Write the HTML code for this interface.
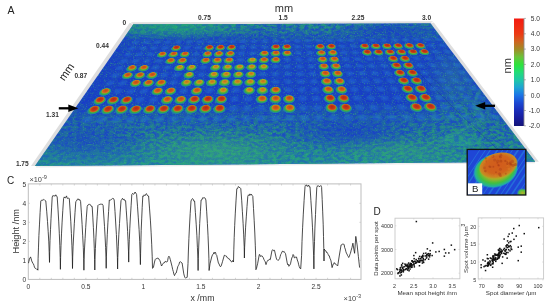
<!DOCTYPE html><html><head><meta charset="utf-8"><style>html,body{margin:0;padding:0;background:#fff;overflow:hidden;width:550px;height:308px;}svg{display:block}</style></head><body>
<svg width="550" height="308" viewBox="0 0 550 308">
<rect width="550" height="308" fill="#fff"/>
<defs>
<linearGradient id="cb" x1="0" y1="0" x2="0" y2="1">
<stop offset="0" stop-color="#f41a10"/>
<stop offset="0.143" stop-color="#ec3a14"/>
<stop offset="0.214" stop-color="#cf6420"/>
<stop offset="0.286" stop-color="#a08c26"/>
<stop offset="0.357" stop-color="#6cc23a"/>
<stop offset="0.429" stop-color="#2ee33c"/>
<stop offset="0.5" stop-color="#22dc78"/>
<stop offset="0.571" stop-color="#1fc8a8"/>
<stop offset="0.643" stop-color="#1ea4d4"/>
<stop offset="0.714" stop-color="#1c74e6"/>
<stop offset="0.786" stop-color="#1c48d2"/>
<stop offset="0.857" stop-color="#1a2cb8"/>
<stop offset="0.929" stop-color="#181c9c"/>
<stop offset="1" stop-color="#141478"/>
</linearGradient>
<radialGradient id="dtR" cx="0.5" cy="0.5" r="0.5" fx="0.5" fy="0.4">
<stop offset="0" stop-color="#b82814"/><stop offset="0.5" stop-color="#c23616"/><stop offset="0.8" stop-color="#cc5a1c"/><stop offset="1" stop-color="#c88a24" stop-opacity="0.3"/>
</radialGradient>
<radialGradient id="dtO" cx="0.5" cy="0.5" r="0.5" fx="0.5" fy="0.4">
<stop offset="0" stop-color="#c84818"/><stop offset="0.5" stop-color="#cc5a1a"/><stop offset="0.8" stop-color="#d07a1e"/><stop offset="1" stop-color="#c09a24" stop-opacity="0.3"/>
</radialGradient>
<radialGradient id="dtY" cx="0.5" cy="0.5" r="0.5" fx="0.5" fy="0.4">
<stop offset="0" stop-color="#c8701c"/><stop offset="0.5" stop-color="#c88620"/><stop offset="0.8" stop-color="#b8a026"/><stop offset="1" stop-color="#a0b02a" stop-opacity="0.3"/>
</radialGradient>
<radialGradient id="skirt0" cx="0.5" cy="0.5" r="0.5" fx="0.56" fy="0.3">
<stop offset="0" stop-color="#98a82c"/><stop offset="0.5" stop-color="#6aae34"/><stop offset="0.72" stop-color="#34a848"/><stop offset="0.88" stop-color="#1f9a9a" stop-opacity="0.7"/><stop offset="1" stop-color="#2a8ab0" stop-opacity="0"/>
</radialGradient>
<radialGradient id="ghost" cx="0.5" cy="0.5" r="0.5">
<stop offset="0" stop-color="#2a88dc" stop-opacity="0.75"/><stop offset="0.6" stop-color="#2a84d8" stop-opacity="0.45"/><stop offset="1" stop-color="#2a84d8" stop-opacity="0"/>
</radialGradient>
<linearGradient id="surfv" x1="0" y1="0" x2="0" y2="1">
<stop offset="0" stop-color="#1f7cc0"/>
<stop offset="0.15" stop-color="#1e66cc"/>
<stop offset="0.3" stop-color="#1d58d0"/>
<stop offset="0.62" stop-color="#1d5cd0"/>
<stop offset="0.8" stop-color="#2176c4"/>
<stop offset="1" stop-color="#2488b4"/>
</linearGradient>
<linearGradient id="botband" gradientUnits="userSpaceOnUse" x1="0" y1="135" x2="0" y2="166">
<stop offset="0" stop-color="#28a890" stop-opacity="0"/><stop offset="1" stop-color="#28a890" stop-opacity="0.4"/>
</linearGradient>
<radialGradient id="gglow" cx="0.5" cy="0.5" r="0.5">
<stop offset="0" stop-color="#3cb070" stop-opacity="0.55"/><stop offset="1" stop-color="#3cb070" stop-opacity="0"/>
</radialGradient>
<radialGradient id="botglow" cx="0.5" cy="1" r="0.5">
<stop offset="0" stop-color="#28b08c" stop-opacity="0.55"/><stop offset="1" stop-color="#28b08c" stop-opacity="0"/>
</radialGradient>
<radialGradient id="tlglow" cx="0.5" cy="0.5" r="0.5">
<stop offset="0" stop-color="#22b46c" stop-opacity="0.6"/><stop offset="1" stop-color="#22b46c" stop-opacity="0"/>
</radialGradient>
<filter id="tex" x="0" y="0" width="1" height="1">
<feTurbulence type="fractalNoise" baseFrequency="0.3 0.45" numOctaves="3" seed="7"/>
<feColorMatrix type="matrix" values="0 0 0 0 0.16  0 0 0 0 0.72  0 0 0 0 0.66  2.6 0 0 0 -1.15"/>
</filter>
<filter id="tex2" x="0" y="0" width="1" height="1">
<feTurbulence type="fractalNoise" baseFrequency="0.5 0.7" numOctaves="2" seed="21"/>
<feColorMatrix type="matrix" values="0 0 0 0 0.08  0 0 0 0 0.2  0 0 0 0 0.65  0 2.4 0 0 -1.1"/>
</filter>
<filter id="soft" x="-0.2" y="-0.2" width="1.4" height="1.4"><feGaussianBlur stdDeviation="0.35"/></filter>
<filter id="soft2" x="-0.2" y="-0.2" width="1.4" height="1.4"><feGaussianBlur stdDeviation="0.8"/></filter>
<clipPath id="surfclip"><polygon points="133.4,24.3 430.5,23.3 535.2,161.8 35,166"/></clipPath>
</defs>
<polygon points="129.8,22.8 133.4,24.3 35,166 31,166" fill="#dedede"/>
<polygon points="430.5,23.3 433.8,22.5 538.8,161.8 535.2,161.8" fill="#dedede"/>
<polygon points="131,22.2 433,21.3 430.5,23.3 133.4,24.3" fill="#dedede"/>
<line x1="36" y1="166.9" x2="535" y2="162.7" stroke="#e2e2e2" stroke-width="0.9"/>
<defs>
<filter id="texA" x="0" y="0" width="1" height="1" color-interpolation-filters="sRGB">
<feTurbulence type="fractalNoise" baseFrequency="0.22 0.38" numOctaves="3" seed="5"/>
<feColorMatrix type="matrix" values="0 0 0 0 0.16  0 0 0 0 0.68  0 0 0 0 0.4  3.0 0 0 0 -1.0"/>
<feGaussianBlur stdDeviation="0.45"/>
</filter>
<filter id="texB" x="0" y="0" width="1" height="1" color-interpolation-filters="sRGB">
<feTurbulence type="fractalNoise" baseFrequency="0.6 0.8" numOctaves="2" seed="12"/>
<feColorMatrix type="matrix" values="0 0 0 0 0.22  0 0 0 0 0.66  0 0 0 0 0.6  0 3.0 0 0 -1.5"/>
</filter>
<filter id="texC" x="0" y="0" width="1" height="1" color-interpolation-filters="sRGB">
<feTurbulence type="fractalNoise" baseFrequency="0.45 0.7" numOctaves="2" seed="31"/>
<feColorMatrix type="matrix" values="0 0 0 0 0.09  0 0 0 0 0.22  0 0 0 0 0.72  0 0 3.0 0 -1.45"/>
</filter>
<filter id="texD" x="0" y="0" width="1" height="1" color-interpolation-filters="sRGB">
<feTurbulence type="fractalNoise" baseFrequency="0.9" numOctaves="1" seed="44"/>
<feColorMatrix type="matrix" values="0 0 0 0 0.25  0 0 0 0 0.72  0 0 0 0 0.45  6 0 0 0 -3.6"/>
</filter>
<linearGradient id="mk" gradientUnits="userSpaceOnUse" x1="0" y1="22" x2="0" y2="166">
<stop offset="0" stop-color="#fff" stop-opacity="1"/>
<stop offset="0.07" stop-color="#fff" stop-opacity="0.75"/>
<stop offset="0.14" stop-color="#fff" stop-opacity="0.22"/>
<stop offset="0.55" stop-color="#fff" stop-opacity="0.12"/>
<stop offset="0.65" stop-color="#fff" stop-opacity="0.45"/>
<stop offset="0.76" stop-color="#fff" stop-opacity="0.85"/>
<stop offset="1" stop-color="#fff" stop-opacity="1"/>
</linearGradient>
<radialGradient id="mkr" cx="0.5" cy="0.5" r="0.5"><stop offset="0" stop-color="#fff" stop-opacity="0.7"/><stop offset="1" stop-color="#fff" stop-opacity="0"/></radialGradient>
<radialGradient id="mkd" cx="0.5" cy="0.5" r="0.5"><stop offset="0" stop-color="#000" stop-opacity="0.7"/><stop offset="1" stop-color="#000" stop-opacity="0"/></radialGradient>
<mask id="mask1" maskUnits="userSpaceOnUse" x="30" y="20" width="510" height="150">
<rect x="30" y="20" width="510" height="150" fill="url(#mk)"/>
<ellipse cx="465" cy="110" rx="45" ry="40" fill="url(#mkr)"/>
<ellipse cx="85" cy="145" rx="75" ry="28" fill="url(#mkd)"/>
<ellipse cx="390" cy="30" rx="60" ry="12" fill="url(#mkd)"/>
<ellipse cx="350" cy="133" rx="75" ry="20" fill="url(#mkd)"/>
</mask>
</defs>
<g clip-path="url(#surfclip)">
<rect x="30" y="20" width="510" height="150" fill="#1838cc"/>
<rect x="30" y="20" width="510" height="150" filter="url(#texC)" opacity="0.35"/>
<g mask="url(#mask1)"><rect x="30" y="20" width="510" height="150" fill="#2a9a9a" opacity="0.3"/><rect x="30" y="20" width="510" height="150" filter="url(#texA)" opacity="0.8"/></g>
<ellipse cx="175" cy="27" rx="80" ry="13" fill="url(#tlglow)" opacity="1"/>
<rect x="30" y="20" width="510" height="150" filter="url(#texD)" opacity="0.45"/>
<rect x="30" y="20" width="510" height="150" filter="url(#texB)" opacity="0.22"/>
<ellipse cx="462" cy="130" rx="32" ry="16" fill="url(#botglow)" opacity="0.9"/>
<rect x="30" y="130" width="510" height="40" fill="url(#botband)"/>
<ellipse cx="215" cy="150" rx="85" ry="22" fill="url(#gglow)" opacity="0.9"/>
<ellipse cx="400" cy="150" rx="70" ry="15" fill="url(#gglow)" opacity="0.6"/>
<ellipse cx="452" cy="75" rx="28" ry="32" fill="url(#gglow)" opacity="0.45"/>
<g fill="none" stroke-linecap="round">
<path d="M418.8 72.9 L459.7 113.9 L506.5 157.7" stroke="#142a80" stroke-width="0.6" opacity="0.55"/>
<path d="M428 74 L470 112 L520 160" stroke="#142a80" stroke-width="0.5" opacity="0.4"/>
<path d="M480 90.5 C474 98 474 104 476 107 C479 112 486 116 483 120 C478 124 470 124 463 130 C456 135 448 137 440 142" stroke="#3cc07a" stroke-width="2.6" opacity="0.4" filter="url(#soft2)"/>
</g>
</g>
<g transform="matrix(10.731 -0.101 -3.588 5.755 135.55 42.38)"><circle r="0.4" fill="url(#ghost)" opacity="0.5"/></g>
<g transform="matrix(10.737 -0.101 -3.316 5.754 146.29 42.28)"><circle r="0.4" fill="url(#ghost)" opacity="0.5"/></g>
<g transform="matrix(10.743 -0.101 -3.043 5.753 157.02 42.18)"><circle r="0.4" fill="url(#ghost)" opacity="0.5"/></g>
<g transform="matrix(10.748 -0.101 -2.770 5.752 167.77 42.07)"><circle r="0.4" fill="url(#ghost)" opacity="0.5"/></g>
<g transform="matrix(10.754 -0.101 -2.497 5.751 178.52 41.97)"><circle r="0.4" fill="url(#ghost)" opacity="0.5"/></g>
<g transform="matrix(10.760 -0.101 -2.223 5.750 189.28 41.87)"><circle r="0.4" fill="url(#ghost)" opacity="0.5"/></g>
<g transform="matrix(10.766 -0.102 -1.949 5.749 200.04 41.77)"><circle r="0.4" fill="url(#ghost)" opacity="0.5"/></g>
<g transform="matrix(10.773 -0.102 -1.675 5.748 210.81 41.67)"><circle r="0.4" fill="url(#ghost)" opacity="0.5"/></g>
<g transform="matrix(10.779 -0.102 -1.400 5.747 221.59 41.57)"><circle r="0.4" fill="url(#ghost)" opacity="0.5"/></g>
<g transform="matrix(10.785 -0.102 -1.125 5.746 232.37 41.46)"><circle r="0.4" fill="url(#ghost)" opacity="0.5"/></g>
<g transform="matrix(10.791 -0.102 -0.850 5.745 243.16 41.36)"><circle r="0.4" fill="url(#ghost)" opacity="0.5"/></g>
<g transform="matrix(10.797 -0.102 -0.575 5.744 253.95 41.26)"><circle r="0.4" fill="url(#ghost)" opacity="0.5"/></g>
<g transform="matrix(10.803 -0.102 -0.299 5.743 264.75 41.16)"><circle r="0.4" fill="url(#ghost)" opacity="0.5"/></g>
<g transform="matrix(10.809 -0.102 -0.023 5.742 275.56 41.06)"><circle r="0.4" fill="url(#ghost)" opacity="0.5"/></g>
<g transform="matrix(10.815 -0.102 0.254 5.741 286.37 40.96)"><circle r="0.4" fill="url(#ghost)" opacity="0.5"/></g>
<g transform="matrix(10.821 -0.102 0.530 5.740 297.19 40.85)"><circle r="0.4" fill="url(#ghost)" opacity="0.5"/></g>
<g transform="matrix(10.827 -0.102 0.807 5.739 308.01 40.75)"><circle r="0.4" fill="url(#ghost)" opacity="0.5"/></g>
<g transform="matrix(10.833 -0.102 1.085 5.738 318.84 40.65)"><circle r="0.4" fill="url(#ghost)" opacity="0.5"/></g>
<g transform="matrix(10.839 -0.102 1.362 5.737 329.67 40.55)"><circle r="0.4" fill="url(#ghost)" opacity="0.5"/></g>
<g transform="matrix(10.845 -0.102 1.640 5.736 340.52 40.45)"><circle r="0.4" fill="url(#ghost)" opacity="0.5"/></g>
<g transform="matrix(10.851 -0.102 1.919 5.735 351.36 40.34)"><circle r="0.4" fill="url(#ghost)" opacity="0.5"/></g>
<g transform="matrix(10.857 -0.102 2.197 5.734 362.22 40.24)"><circle r="0.4" fill="url(#ghost)" opacity="0.5"/></g>
<g transform="matrix(10.863 -0.102 2.476 5.733 373.08 40.14)"><circle r="0.4" fill="url(#ghost)" opacity="0.5"/></g>
<g transform="matrix(10.869 -0.103 2.755 5.732 383.95 40.04)"><circle r="0.4" fill="url(#ghost)" opacity="0.5"/></g>
<g transform="matrix(10.875 -0.103 3.035 5.731 394.82 39.93)"><circle r="0.4" fill="url(#ghost)" opacity="0.5"/></g>
<g transform="matrix(10.882 -0.103 3.315 5.730 405.70 39.83)"><circle r="0.4" fill="url(#ghost)" opacity="0.5"/></g>
<g transform="matrix(10.888 -0.103 3.595 5.729 416.58 39.73)"><circle r="0.4" fill="url(#ghost)" opacity="0.5"/></g>
<g transform="matrix(10.894 -0.103 3.875 5.728 427.47 39.63)"><circle r="0.4" fill="url(#ghost)" opacity="0.5"/></g>
<g transform="matrix(10.900 -0.103 4.156 5.727 438.37 39.52)"><circle r="0.4" fill="url(#ghost)" opacity="0.5"/></g>
<g transform="matrix(11.010 -0.102 -3.778 6.060 131.87 48.28)"><circle r="0.4" fill="url(#ghost)" opacity="0.5"/></g>
<g transform="matrix(11.016 -0.102 -3.491 6.059 142.88 48.18)"><circle r="0.4" fill="url(#ghost)" opacity="0.5"/></g>
<g transform="matrix(11.022 -0.102 -3.204 6.058 153.90 48.08)"><circle r="0.4" fill="url(#ghost)" opacity="0.5"/></g>
<g transform="matrix(11.029 -0.102 -2.917 6.057 164.93 47.98)"><circle r="0.4" fill="url(#ghost)" opacity="0.5"/></g>
<g transform="matrix(11.041 -0.102 -2.341 6.055 187.00 47.77)"><circle r="0.4" fill="url(#ghost)" opacity="0.5"/></g>
<g transform="matrix(11.048 -0.103 -2.052 6.054 198.04 47.67)"><circle r="0.4" fill="url(#ghost)" opacity="0.5"/></g>
<g transform="matrix(11.073 -0.103 -0.895 6.050 242.28 47.26)"><circle r="0.4" fill="url(#ghost)" opacity="0.5"/></g>
<g transform="matrix(11.079 -0.103 -0.605 6.049 253.36 47.16)"><circle r="0.4" fill="url(#ghost)" opacity="0.5"/></g>
<g transform="matrix(11.086 -0.103 -0.315 6.048 264.44 47.05)"><circle r="0.4" fill="url(#ghost)" opacity="0.5"/></g>
<g transform="matrix(11.105 -0.103 0.559 6.045 297.73 46.74)"><circle r="0.4" fill="url(#ghost)" opacity="0.5"/></g>
<g transform="matrix(11.111 -0.103 0.850 6.044 308.84 46.64)"><circle r="0.4" fill="url(#ghost)" opacity="0.5"/></g>
<g transform="matrix(11.130 -0.103 1.728 6.041 342.20 46.33)"><circle r="0.4" fill="url(#ghost)" opacity="0.5"/></g>
<g transform="matrix(11.137 -0.103 2.021 6.040 353.33 46.23)"><circle r="0.4" fill="url(#ghost)" opacity="0.5"/></g>
<g transform="matrix(11.182 -0.104 4.082 6.034 431.45 45.50)"><circle r="0.4" fill="url(#ghost)" opacity="0.5"/></g>
<g transform="matrix(11.188 -0.104 4.378 6.033 442.63 45.40)"><circle r="0.4" fill="url(#ghost)" opacity="0.5"/></g>
<g transform="matrix(11.304 -0.103 -3.983 6.389 127.99 54.51)"><circle r="0.4" fill="url(#ghost)" opacity="0.5"/></g>
<g transform="matrix(11.311 -0.103 -3.681 6.388 139.30 54.40)"><circle r="0.4" fill="url(#ghost)" opacity="0.5"/></g>
<g transform="matrix(11.317 -0.103 -3.378 6.387 150.61 54.30)"><circle r="0.4" fill="url(#ghost)" opacity="0.5"/></g>
<g transform="matrix(11.344 -0.103 -2.164 6.384 195.94 53.89)"><circle r="0.4" fill="url(#ghost)" opacity="0.5"/></g>
<g transform="matrix(11.371 -0.104 -0.944 6.380 241.37 53.47)"><circle r="0.4" fill="url(#ghost)" opacity="0.5"/></g>
<g transform="matrix(11.377 -0.104 -0.638 6.379 252.74 53.37)"><circle r="0.4" fill="url(#ghost)" opacity="0.5"/></g>
<g transform="matrix(11.404 -0.104 0.589 6.376 298.30 52.95)"><circle r="0.4" fill="url(#ghost)" opacity="0.5"/></g>
<g transform="matrix(11.411 -0.104 0.897 6.375 309.71 52.85)"><circle r="0.4" fill="url(#ghost)" opacity="0.5"/></g>
<g transform="matrix(11.431 -0.104 1.822 6.372 343.97 52.54)"><circle r="0.4" fill="url(#ghost)" opacity="0.5"/></g>
<g transform="matrix(11.438 -0.104 2.131 6.371 355.41 52.43)"><circle r="0.4" fill="url(#ghost)" opacity="0.5"/></g>
<g transform="matrix(11.485 -0.105 4.306 6.364 435.64 51.70)"><circle r="0.4" fill="url(#ghost)" opacity="0.5"/></g>
<g transform="matrix(11.492 -0.105 4.618 6.363 447.13 51.60)"><circle r="0.4" fill="url(#ghost)" opacity="0.5"/></g>
<g transform="matrix(11.615 -0.104 -4.206 6.746 123.90 61.07)"><circle r="0.4" fill="url(#ghost)" opacity="0.5"/></g>
<g transform="matrix(11.622 -0.104 -3.887 6.745 135.52 60.97)"><circle r="0.4" fill="url(#ghost)" opacity="0.5"/></g>
<g transform="matrix(11.629 -0.104 -3.567 6.745 147.14 60.86)"><circle r="0.4" fill="url(#ghost)" opacity="0.5"/></g>
<g transform="matrix(11.636 -0.104 -3.248 6.744 158.77 60.76)"><circle r="0.4" fill="url(#ghost)" opacity="0.5"/></g>
<g transform="matrix(11.657 -0.104 -2.285 6.741 193.71 60.45)"><circle r="0.4" fill="url(#ghost)" opacity="0.5"/></g>
<g transform="matrix(11.685 -0.105 -0.997 6.738 240.39 60.03)"><circle r="0.4" fill="url(#ghost)" opacity="0.5"/></g>
<g transform="matrix(11.713 -0.105 0.298 6.734 287.19 59.61)"><circle r="0.4" fill="url(#ghost)" opacity="0.5"/></g>
<g transform="matrix(11.720 -0.105 0.622 6.734 298.91 59.50)"><circle r="0.4" fill="url(#ghost)" opacity="0.5"/></g>
<g transform="matrix(11.727 -0.105 0.947 6.733 310.63 59.40)"><circle r="0.4" fill="url(#ghost)" opacity="0.5"/></g>
<g transform="matrix(11.749 -0.105 1.925 6.730 345.85 59.08)"><circle r="0.4" fill="url(#ghost)" opacity="0.5"/></g>
<g transform="matrix(11.756 -0.105 2.251 6.729 357.60 58.98)"><circle r="0.4" fill="url(#ghost)" opacity="0.5"/></g>
<g transform="matrix(11.763 -0.105 2.578 6.728 369.36 58.87)"><circle r="0.4" fill="url(#ghost)" opacity="0.5"/></g>
<g transform="matrix(11.770 -0.105 2.906 6.727 381.13 58.77)"><circle r="0.4" fill="url(#ghost)" opacity="0.5"/></g>
<g transform="matrix(11.792 -0.106 3.890 6.725 416.47 58.45)"><circle r="0.4" fill="url(#ghost)" opacity="0.5"/></g>
<g transform="matrix(11.799 -0.106 4.219 6.724 428.26 58.35)"><circle r="0.4" fill="url(#ghost)" opacity="0.5"/></g>
<g transform="matrix(11.806 -0.106 4.548 6.723 440.07 58.24)"><circle r="0.4" fill="url(#ghost)" opacity="0.5"/></g>
<g transform="matrix(11.813 -0.106 4.878 6.722 451.88 58.14)"><circle r="0.4" fill="url(#ghost)" opacity="0.5"/></g>
<g transform="matrix(11.943 -0.105 -4.448 7.134 119.57 68.01)"><circle r="0.4" fill="url(#ghost)" opacity="0.5"/></g>
<g transform="matrix(11.965 -0.105 -3.434 7.132 155.43 67.69)"><circle r="0.4" fill="url(#ghost)" opacity="0.5"/></g>
<g transform="matrix(11.972 -0.105 -3.096 7.131 167.40 67.59)"><circle r="0.4" fill="url(#ghost)" opacity="0.5"/></g>
<g transform="matrix(11.995 -0.105 -2.077 7.129 203.35 67.27)"><circle r="0.4" fill="url(#ghost)" opacity="0.5"/></g>
<g transform="matrix(12.039 -0.106 -0.028 7.124 275.45 66.64)"><circle r="0.4" fill="url(#ghost)" opacity="0.5"/></g>
<g transform="matrix(12.047 -0.106 0.315 7.123 287.50 66.54)"><circle r="0.4" fill="url(#ghost)" opacity="0.5"/></g>
<g transform="matrix(12.054 -0.106 0.658 7.123 299.55 66.43)"><circle r="0.4" fill="url(#ghost)" opacity="0.5"/></g>
<g transform="matrix(12.062 -0.106 1.002 7.122 311.61 66.32)"><circle r="0.4" fill="url(#ghost)" opacity="0.5"/></g>
<g transform="matrix(12.085 -0.106 2.036 7.120 347.83 66.01)"><circle r="0.4" fill="url(#ghost)" opacity="0.5"/></g>
<g transform="matrix(12.092 -0.106 2.381 7.119 359.91 65.90)"><circle r="0.4" fill="url(#ghost)" opacity="0.5"/></g>
<g transform="matrix(12.100 -0.106 2.727 7.118 372.01 65.79)"><circle r="0.4" fill="url(#ghost)" opacity="0.5"/></g>
<g transform="matrix(12.107 -0.106 3.074 7.117 384.11 65.69)"><circle r="0.4" fill="url(#ghost)" opacity="0.5"/></g>
<g transform="matrix(12.130 -0.106 4.116 7.115 420.47 65.37)"><circle r="0.4" fill="url(#ghost)" opacity="0.5"/></g>
<g transform="matrix(12.138 -0.106 4.464 7.114 432.60 65.26)"><circle r="0.4" fill="url(#ghost)" opacity="0.5"/></g>
<g transform="matrix(12.145 -0.106 4.812 7.113 444.74 65.16)"><circle r="0.4" fill="url(#ghost)" opacity="0.5"/></g>
<g transform="matrix(12.153 -0.107 5.161 7.112 456.89 65.05)"><circle r="0.4" fill="url(#ghost)" opacity="0.5"/></g>
<g transform="matrix(12.290 -0.105 -4.711 7.557 114.99 75.35)"><circle r="0.4" fill="url(#ghost)" opacity="0.5"/></g>
<g transform="matrix(12.321 -0.106 -3.279 7.554 164.22 74.93)"><circle r="0.4" fill="url(#ghost)" opacity="0.5"/></g>
<g transform="matrix(12.329 -0.106 -2.920 7.553 176.54 74.82)"><circle r="0.4" fill="url(#ghost)" opacity="0.5"/></g>
<g transform="matrix(12.345 -0.106 -2.200 7.552 201.21 74.61)"><circle r="0.4" fill="url(#ghost)" opacity="0.5"/></g>
<g transform="matrix(12.384 -0.106 -0.393 7.549 263.04 74.08)"><circle r="0.4" fill="url(#ghost)" opacity="0.5"/></g>
<g transform="matrix(12.392 -0.106 -0.030 7.548 275.43 73.97)"><circle r="0.4" fill="url(#ghost)" opacity="0.5"/></g>
<g transform="matrix(12.400 -0.106 0.333 7.547 287.82 73.87)"><circle r="0.4" fill="url(#ghost)" opacity="0.5"/></g>
<g transform="matrix(12.408 -0.106 0.697 7.547 300.23 73.76)"><circle r="0.4" fill="url(#ghost)" opacity="0.5"/></g>
<g transform="matrix(12.416 -0.107 1.062 7.546 312.64 73.65)"><circle r="0.4" fill="url(#ghost)" opacity="0.5"/></g>
<g transform="matrix(12.440 -0.107 2.157 7.544 349.92 73.33)"><circle r="0.4" fill="url(#ghost)" opacity="0.5"/></g>
<g transform="matrix(12.448 -0.107 2.523 7.543 362.37 73.23)"><circle r="0.4" fill="url(#ghost)" opacity="0.5"/></g>
<g transform="matrix(12.456 -0.107 2.890 7.542 374.82 73.12)"><circle r="0.4" fill="url(#ghost)" opacity="0.5"/></g>
<g transform="matrix(12.464 -0.107 3.257 7.542 387.28 73.01)"><circle r="0.4" fill="url(#ghost)" opacity="0.5"/></g>
<g transform="matrix(12.488 -0.107 4.361 7.539 424.71 72.69)"><circle r="0.4" fill="url(#ghost)" opacity="0.5"/></g>
<g transform="matrix(12.496 -0.107 4.730 7.539 437.20 72.59)"><circle r="0.4" fill="url(#ghost)" opacity="0.5"/></g>
<g transform="matrix(12.504 -0.107 5.100 7.538 449.70 72.48)"><circle r="0.4" fill="url(#ghost)" opacity="0.5"/></g>
<g transform="matrix(12.512 -0.107 5.470 7.537 462.21 72.37)"><circle r="0.4" fill="url(#ghost)" opacity="0.5"/></g>
<g transform="matrix(12.657 -0.106 -4.999 8.018 110.14 83.13)"><circle r="0.4" fill="url(#ghost)" opacity="0.5"/></g>
<g transform="matrix(12.666 -0.106 -4.620 8.017 122.80 83.03)"><circle r="0.4" fill="url(#ghost)" opacity="0.5"/></g>
<g transform="matrix(12.699 -0.106 -3.099 8.015 173.53 82.60)"><circle r="0.4" fill="url(#ghost)" opacity="0.5"/></g>
<g transform="matrix(12.766 -0.107 -0.032 8.011 275.39 81.75)"><circle r="0.4" fill="url(#ghost)" opacity="0.5"/></g>
<g transform="matrix(12.775 -0.107 0.354 8.010 288.16 81.64)"><circle r="0.4" fill="url(#ghost)" opacity="0.5"/></g>
<g transform="matrix(12.783 -0.107 0.740 8.009 300.94 81.54)"><circle r="0.4" fill="url(#ghost)" opacity="0.5"/></g>
<g transform="matrix(12.792 -0.107 1.127 8.009 313.73 81.43)"><circle r="0.4" fill="url(#ghost)" opacity="0.5"/></g>
<g transform="matrix(12.817 -0.107 2.290 8.007 352.14 81.11)"><circle r="0.4" fill="url(#ghost)" opacity="0.5"/></g>
<g transform="matrix(12.826 -0.107 2.678 8.006 364.97 81.00)"><circle r="0.4" fill="url(#ghost)" opacity="0.5"/></g>
<g transform="matrix(12.834 -0.108 3.068 8.006 377.80 80.89)"><circle r="0.4" fill="url(#ghost)" opacity="0.5"/></g>
<g transform="matrix(12.843 -0.108 3.457 8.005 390.63 80.78)"><circle r="0.4" fill="url(#ghost)" opacity="0.5"/></g>
<g transform="matrix(12.868 -0.108 4.630 8.003 429.20 80.46)"><circle r="0.4" fill="url(#ghost)" opacity="0.5"/></g>
<g transform="matrix(12.877 -0.108 5.021 8.003 442.07 80.35)"><circle r="0.4" fill="url(#ghost)" opacity="0.5"/></g>
<g transform="matrix(12.885 -0.108 5.414 8.002 454.95 80.24)"><circle r="0.4" fill="url(#ghost)" opacity="0.5"/></g>
<g transform="matrix(12.894 -0.108 5.807 8.001 467.84 80.14)"><circle r="0.4" fill="url(#ghost)" opacity="0.5"/></g>
<g transform="matrix(13.057 -0.107 -4.911 8.522 118.04 91.29)"><circle r="0.4" fill="url(#ghost)" opacity="0.5"/></g>
<g transform="matrix(13.066 -0.107 -4.507 8.522 131.10 91.19)"><circle r="0.4" fill="url(#ghost)" opacity="0.5"/></g>
<g transform="matrix(13.074 -0.107 -4.103 8.521 144.17 91.08)"><circle r="0.4" fill="url(#ghost)" opacity="0.5"/></g>
<g transform="matrix(13.101 -0.107 -2.888 8.520 183.43 90.76)"><circle r="0.4" fill="url(#ghost)" opacity="0.5"/></g>
<g transform="matrix(13.119 -0.107 -2.076 8.519 209.66 90.55)"><circle r="0.4" fill="url(#ghost)" opacity="0.5"/></g>
<g transform="matrix(13.137 -0.107 -1.260 8.518 235.91 90.33)"><circle r="0.4" fill="url(#ghost)" opacity="0.5"/></g>
<g transform="matrix(13.173 -0.108 0.376 8.517 288.53 89.90)"><circle r="0.4" fill="url(#ghost)" opacity="0.5"/></g>
<g transform="matrix(13.182 -0.108 0.787 8.516 301.71 89.79)"><circle r="0.4" fill="url(#ghost)" opacity="0.5"/></g>
<g transform="matrix(13.191 -0.108 1.198 8.516 314.89 89.69)"><circle r="0.4" fill="url(#ghost)" opacity="0.5"/></g>
<g transform="matrix(13.218 -0.108 2.435 8.514 354.51 89.36)"><circle r="0.4" fill="url(#ghost)" opacity="0.5"/></g>
<g transform="matrix(13.227 -0.108 2.848 8.514 367.73 89.25)"><circle r="0.4" fill="url(#ghost)" opacity="0.5"/></g>
<g transform="matrix(13.236 -0.108 3.262 8.513 380.96 89.15)"><circle r="0.4" fill="url(#ghost)" opacity="0.5"/></g>
<g transform="matrix(13.245 -0.108 3.677 8.513 394.20 89.04)"><circle r="0.4" fill="url(#ghost)" opacity="0.5"/></g>
<g transform="matrix(13.272 -0.108 4.924 8.511 433.97 88.71)"><circle r="0.4" fill="url(#ghost)" opacity="0.5"/></g>
<g transform="matrix(13.281 -0.108 5.340 8.511 447.25 88.61)"><circle r="0.4" fill="url(#ghost)" opacity="0.5"/></g>
<g transform="matrix(13.290 -0.109 5.758 8.510 460.54 88.50)"><circle r="0.4" fill="url(#ghost)" opacity="0.5"/></g>
<g transform="matrix(13.299 -0.109 6.176 8.510 473.83 88.39)"><circle r="0.4" fill="url(#ghost)" opacity="0.5"/></g>
<g transform="matrix(13.492 -0.107 -4.370 9.076 139.94 99.87)"><circle r="0.4" fill="url(#ghost)" opacity="0.5"/></g>
<g transform="matrix(13.501 -0.107 -3.940 9.075 153.43 99.77)"><circle r="0.4" fill="url(#ghost)" opacity="0.5"/></g>
<g transform="matrix(13.558 -0.108 -1.343 9.074 234.61 99.12)"><circle r="0.4" fill="url(#ghost)" opacity="0.5"/></g>
<g transform="matrix(13.567 -0.108 -0.908 9.074 248.17 99.01)"><circle r="0.4" fill="url(#ghost)" opacity="0.5"/></g>
<g transform="matrix(13.606 -0.108 0.838 9.072 302.52 98.58)"><circle r="0.4" fill="url(#ghost)" opacity="0.5"/></g>
<g transform="matrix(13.615 -0.108 1.276 9.072 316.13 98.48)"><circle r="0.4" fill="url(#ghost)" opacity="0.5"/></g>
<g transform="matrix(13.644 -0.108 2.594 9.071 357.02 98.15)"><circle r="0.4" fill="url(#ghost)" opacity="0.5"/></g>
<g transform="matrix(13.654 -0.108 3.035 9.071 370.67 98.04)"><circle r="0.4" fill="url(#ghost)" opacity="0.5"/></g>
<g transform="matrix(13.663 -0.108 3.476 9.071 384.33 97.93)"><circle r="0.4" fill="url(#ghost)" opacity="0.5"/></g>
<g transform="matrix(13.673 -0.109 3.917 9.070 397.99 97.83)"><circle r="0.4" fill="url(#ghost)" opacity="0.5"/></g>
<g transform="matrix(13.702 -0.109 5.246 9.069 439.06 97.50)"><circle r="0.4" fill="url(#ghost)" opacity="0.5"/></g>
<g transform="matrix(13.712 -0.109 5.691 9.069 452.76 97.39)"><circle r="0.4" fill="url(#ghost)" opacity="0.5"/></g>
<g transform="matrix(13.721 -0.109 6.135 9.069 466.48 97.28)"><circle r="0.4" fill="url(#ghost)" opacity="0.5"/></g>
<g transform="matrix(13.731 -0.109 6.581 9.069 480.20 97.17)"><circle r="0.4" fill="url(#ghost)" opacity="0.5"/></g>
<g transform="matrix(14.007 -0.108 -1.433 9.686 233.22 108.50)"><circle r="0.4" fill="url(#ghost)" opacity="0.5"/></g>
<g transform="matrix(14.017 -0.108 -0.969 9.685 247.23 108.39)"><circle r="0.4" fill="url(#ghost)" opacity="0.5"/></g>
<g transform="matrix(14.027 -0.108 -0.504 9.685 261.26 108.28)"><circle r="0.4" fill="url(#ghost)" opacity="0.5"/></g>
<g transform="matrix(14.058 -0.108 0.895 9.685 303.38 107.96)"><circle r="0.4" fill="url(#ghost)" opacity="0.5"/></g>
<g transform="matrix(14.068 -0.108 1.362 9.685 317.45 107.85)"><circle r="0.4" fill="url(#ghost)" opacity="0.5"/></g>
<g transform="matrix(14.099 -0.108 2.770 9.685 359.70 107.52)"><circle r="0.4" fill="url(#ghost)" opacity="0.5"/></g>
<g transform="matrix(14.109 -0.109 3.240 9.685 373.80 107.41)"><circle r="0.4" fill="url(#ghost)" opacity="0.5"/></g>
<g transform="matrix(14.119 -0.109 3.711 9.685 387.92 107.31)"><circle r="0.4" fill="url(#ghost)" opacity="0.5"/></g>
<g transform="matrix(14.130 -0.109 4.183 9.685 402.04 107.20)"><circle r="0.4" fill="url(#ghost)" opacity="0.5"/></g>
<g transform="matrix(14.161 -0.109 5.602 9.684 444.48 106.87)"><circle r="0.4" fill="url(#ghost)" opacity="0.5"/></g>
<g transform="matrix(14.171 -0.109 6.077 9.684 458.64 106.76)"><circle r="0.4" fill="url(#ghost)" opacity="0.5"/></g>
<g transform="matrix(14.181 -0.109 6.552 9.684 472.82 106.65)"><circle r="0.4" fill="url(#ghost)" opacity="0.5"/></g>
<g transform="matrix(14.192 -0.109 7.028 9.684 487.01 106.54)"><circle r="0.4" fill="url(#ghost)" opacity="0.5"/></g>
<g transform="matrix(14.379 -0.107 -6.459 10.359 87.41 119.59)"><circle r="0.4" fill="url(#ghost)" opacity="0.5"/></g>
<g transform="matrix(14.389 -0.107 -5.969 10.359 101.80 119.48)"><circle r="0.4" fill="url(#ghost)" opacity="0.5"/></g>
<g transform="matrix(14.400 -0.107 -5.480 10.360 116.19 119.37)"><circle r="0.4" fill="url(#ghost)" opacity="0.5"/></g>
<g transform="matrix(14.411 -0.107 -4.989 10.360 130.60 119.27)"><circle r="0.4" fill="url(#ghost)" opacity="0.5"/></g>
<g transform="matrix(14.422 -0.107 -4.497 10.360 145.01 119.16)"><circle r="0.4" fill="url(#ghost)" opacity="0.5"/></g>
<g transform="matrix(14.433 -0.107 -4.005 10.360 159.44 119.05)"><circle r="0.4" fill="url(#ghost)" opacity="0.5"/></g>
<g transform="matrix(14.443 -0.107 -3.512 10.360 173.88 118.94)"><circle r="0.4" fill="url(#ghost)" opacity="0.5"/></g>
<g transform="matrix(14.454 -0.107 -3.019 10.361 188.33 118.84)"><circle r="0.4" fill="url(#ghost)" opacity="0.5"/></g>
<g transform="matrix(14.465 -0.108 -2.524 10.361 202.79 118.73)"><circle r="0.4" fill="url(#ghost)" opacity="0.5"/></g>
<g transform="matrix(14.476 -0.108 -2.029 10.361 217.26 118.62)"><circle r="0.4" fill="url(#ghost)" opacity="0.5"/></g>
<g transform="matrix(14.487 -0.108 -1.533 10.361 231.74 118.51)"><circle r="0.4" fill="url(#ghost)" opacity="0.5"/></g>
<g transform="matrix(14.498 -0.108 -1.037 10.361 246.23 118.41)"><circle r="0.4" fill="url(#ghost)" opacity="0.5"/></g>
<g transform="matrix(14.509 -0.108 -0.539 10.362 260.74 118.30)"><circle r="0.4" fill="url(#ghost)" opacity="0.5"/></g>
<g transform="matrix(14.519 -0.108 -0.041 10.362 275.25 118.19)"><circle r="0.4" fill="url(#ghost)" opacity="0.5"/></g>
<g transform="matrix(14.530 -0.108 0.458 10.362 289.77 118.08)"><circle r="0.4" fill="url(#ghost)" opacity="0.5"/></g>
<g transform="matrix(14.541 -0.108 0.957 10.362 304.31 117.97)"><circle r="0.4" fill="url(#ghost)" opacity="0.5"/></g>
<g transform="matrix(14.552 -0.108 1.458 10.362 318.86 117.87)"><circle r="0.4" fill="url(#ghost)" opacity="0.5"/></g>
<g transform="matrix(14.563 -0.108 1.959 10.363 333.41 117.76)"><circle r="0.4" fill="url(#ghost)" opacity="0.5"/></g>
<g transform="matrix(14.574 -0.108 2.461 10.363 347.98 117.65)"><circle r="0.4" fill="url(#ghost)" opacity="0.5"/></g>
<g transform="matrix(14.585 -0.108 2.963 10.363 362.56 117.54)"><circle r="0.4" fill="url(#ghost)" opacity="0.5"/></g>
<g transform="matrix(14.596 -0.109 3.467 10.363 377.15 117.43)"><circle r="0.4" fill="url(#ghost)" opacity="0.5"/></g>
<g transform="matrix(14.607 -0.109 3.971 10.363 391.76 117.32)"><circle r="0.4" fill="url(#ghost)" opacity="0.5"/></g>
<g transform="matrix(14.618 -0.109 4.476 10.363 406.37 117.22)"><circle r="0.4" fill="url(#ghost)" opacity="0.5"/></g>
<g transform="matrix(14.629 -0.109 4.981 10.364 420.99 117.11)"><circle r="0.4" fill="url(#ghost)" opacity="0.5"/></g>
<g transform="matrix(14.640 -0.109 5.488 10.364 435.63 117.00)"><circle r="0.4" fill="url(#ghost)" opacity="0.5"/></g>
<g transform="matrix(14.651 -0.109 5.995 10.364 450.27 116.89)"><circle r="0.4" fill="url(#ghost)" opacity="0.5"/></g>
<g transform="matrix(14.662 -0.109 6.503 10.364 464.93 116.78)"><circle r="0.4" fill="url(#ghost)" opacity="0.5"/></g>
<g transform="matrix(14.673 -0.109 7.012 10.364 479.60 116.67)"><circle r="0.4" fill="url(#ghost)" opacity="0.5"/></g>
<g transform="matrix(14.684 -0.109 7.521 10.364 494.28 116.56)"><circle r="0.4" fill="url(#ghost)" opacity="0.5"/></g>
<g filter="url(#soft)">
<g transform="matrix(11.035 -0.102 -2.103 6.359 175.96 48.47)"><circle r="0.47" fill="url(#skirt0)"/></g>
<g transform="matrix(11.035 -0.102 -2.103 6.359 176.46 47.37)"><circle r="0.33" fill="url(#dtR)"/></g>
<g transform="matrix(11.054 -0.103 -1.411 6.356 209.09 48.17)"><circle r="0.47" fill="url(#skirt0)"/></g>
<g transform="matrix(11.054 -0.103 -1.411 6.356 209.59 47.07)"><circle r="0.33" fill="url(#dtR)"/></g>
<g transform="matrix(11.060 -0.103 -1.180 6.355 220.15 48.06)"><circle r="0.47" fill="url(#skirt0)"/></g>
<g transform="matrix(11.060 -0.103 -1.180 6.355 220.65 46.96)"><circle r="0.33" fill="url(#dtR)"/></g>
<g transform="matrix(11.067 -0.103 -0.948 6.354 231.21 47.96)"><circle r="0.47" fill="url(#skirt0)"/></g>
<g transform="matrix(11.067 -0.103 -0.948 6.354 231.71 46.86)"><circle r="0.33" fill="url(#dtR)"/></g>
<g transform="matrix(11.092 -0.103 -0.019 6.350 275.53 47.55)"><circle r="0.47" fill="url(#skirt0)"/></g>
<g transform="matrix(11.092 -0.103 -0.019 6.350 276.03 46.45)"><circle r="0.33" fill="url(#dtR)"/></g>
<g transform="matrix(11.099 -0.103 0.214 6.349 286.63 47.45)"><circle r="0.47" fill="url(#skirt0)"/></g>
<g transform="matrix(11.099 -0.103 0.214 6.349 287.13 46.35)"><circle r="0.33" fill="url(#dtR)"/></g>
<g transform="matrix(11.118 -0.103 0.914 6.346 319.95 47.14)"><circle r="0.47" fill="url(#skirt0)"/></g>
<g transform="matrix(11.118 -0.103 0.914 6.346 320.45 46.04)"><circle r="0.33" fill="url(#dtR)"/></g>
<g transform="matrix(11.124 -0.103 1.148 6.345 331.07 47.03)"><circle r="0.47" fill="url(#skirt0)"/></g>
<g transform="matrix(11.124 -0.103 1.148 6.345 331.57 45.93)"><circle r="0.33" fill="url(#dtR)"/></g>
<g transform="matrix(11.143 -0.103 1.851 6.341 364.47 46.73)"><circle r="0.47" fill="url(#skirt0)"/></g>
<g transform="matrix(11.143 -0.103 1.851 6.341 364.97 45.63)"><circle r="0.33" fill="url(#dtR)"/></g>
<g transform="matrix(11.150 -0.103 2.086 6.340 375.62 46.62)"><circle r="0.47" fill="url(#skirt0)"/></g>
<g transform="matrix(11.150 -0.103 2.086 6.340 376.12 45.52)"><circle r="0.33" fill="url(#dtR)"/></g>
<g transform="matrix(11.156 -0.104 2.322 6.339 386.77 46.52)"><circle r="0.47" fill="url(#skirt0)"/></g>
<g transform="matrix(11.156 -0.104 2.322 6.339 387.27 45.42)"><circle r="0.33" fill="url(#dtR)"/></g>
<g transform="matrix(11.162 -0.104 2.557 6.338 397.93 46.41)"><circle r="0.47" fill="url(#skirt0)"/></g>
<g transform="matrix(11.162 -0.104 2.557 6.338 398.43 45.31)"><circle r="0.33" fill="url(#dtR)"/></g>
<g transform="matrix(11.169 -0.104 2.793 6.337 409.10 46.31)"><circle r="0.47" fill="url(#skirt0)"/></g>
<g transform="matrix(11.169 -0.104 2.793 6.337 409.60 45.21)"><circle r="0.33" fill="url(#dtR)"/></g>
<g transform="matrix(11.175 -0.104 3.029 6.336 420.27 46.21)"><circle r="0.47" fill="url(#skirt0)"/></g>
<g transform="matrix(11.175 -0.104 3.029 6.336 420.77 45.11)"><circle r="0.33" fill="url(#dtR)"/></g>
<g transform="matrix(11.324 -0.103 -2.460 6.706 161.93 54.80)"><circle r="0.47" fill="url(#skirt0)"/></g>
<g transform="matrix(11.324 -0.103 -2.460 6.706 162.43 53.70)"><circle r="0.31" fill="url(#dtO)"/></g>
<g transform="matrix(11.331 -0.103 -2.218 6.705 173.26 54.69)"><circle r="0.47" fill="url(#skirt0)"/></g>
<g transform="matrix(11.331 -0.103 -2.218 6.705 173.76 53.59)"><circle r="0.31" fill="url(#dtO)"/></g>
<g transform="matrix(11.337 -0.103 -1.975 6.704 184.59 54.59)"><circle r="0.47" fill="url(#skirt0)"/></g>
<g transform="matrix(11.337 -0.103 -1.975 6.704 185.09 53.49)"><circle r="0.31" fill="url(#dtO)"/></g>
<g transform="matrix(11.351 -0.103 -1.488 6.702 207.28 54.38)"><circle r="0.47" fill="url(#skirt0)"/></g>
<g transform="matrix(11.351 -0.103 -1.488 6.702 207.78 53.28)"><circle r="0.31" fill="url(#dtO)"/></g>
<g transform="matrix(11.357 -0.104 -1.244 6.701 218.64 54.28)"><circle r="0.47" fill="url(#skirt0)"/></g>
<g transform="matrix(11.357 -0.104 -1.244 6.701 219.14 53.18)"><circle r="0.31" fill="url(#dtO)"/></g>
<g transform="matrix(11.364 -0.104 -1.000 6.700 230.00 54.18)"><circle r="0.47" fill="url(#skirt0)"/></g>
<g transform="matrix(11.364 -0.104 -1.000 6.700 230.50 53.08)"><circle r="0.31" fill="url(#dtO)"/></g>
<g transform="matrix(11.384 -0.104 -0.266 6.697 264.12 53.86)"><circle r="0.47" fill="url(#skirt0)"/></g>
<g transform="matrix(11.384 -0.104 -0.266 6.697 264.62 52.76)"><circle r="0.31" fill="url(#dtO)"/></g>
<g transform="matrix(11.391 -0.104 -0.020 6.696 275.51 53.76)"><circle r="0.47" fill="url(#skirt0)"/></g>
<g transform="matrix(11.391 -0.104 -0.020 6.696 276.01 52.66)"><circle r="0.31" fill="url(#dtO)"/></g>
<g transform="matrix(11.398 -0.104 0.225 6.695 286.90 53.66)"><circle r="0.47" fill="url(#skirt0)"/></g>
<g transform="matrix(11.398 -0.104 0.225 6.695 287.40 52.56)"><circle r="0.31" fill="url(#dtO)"/></g>
<g transform="matrix(11.418 -0.104 0.964 6.692 321.13 53.34)"><circle r="0.47" fill="url(#skirt0)"/></g>
<g transform="matrix(11.418 -0.104 0.964 6.692 321.63 52.24)"><circle r="0.31" fill="url(#dtO)"/></g>
<g transform="matrix(11.425 -0.104 1.211 6.691 332.55 53.24)"><circle r="0.47" fill="url(#skirt0)"/></g>
<g transform="matrix(11.425 -0.104 1.211 6.691 333.05 52.14)"><circle r="0.31" fill="url(#dtO)"/></g>
<g transform="matrix(11.445 -0.104 1.953 6.688 366.85 52.93)"><circle r="0.47" fill="url(#skirt0)"/></g>
<g transform="matrix(11.445 -0.104 1.953 6.688 367.35 51.83)"><circle r="0.33" fill="url(#dtR)"/></g>
<g transform="matrix(11.452 -0.104 2.201 6.687 378.30 52.82)"><circle r="0.47" fill="url(#skirt0)"/></g>
<g transform="matrix(11.452 -0.104 2.201 6.687 378.80 51.72)"><circle r="0.33" fill="url(#dtR)"/></g>
<g transform="matrix(11.458 -0.104 2.449 6.686 389.75 52.72)"><circle r="0.47" fill="url(#skirt0)"/></g>
<g transform="matrix(11.458 -0.104 2.449 6.686 390.25 51.62)"><circle r="0.33" fill="url(#dtR)"/></g>
<g transform="matrix(11.465 -0.105 2.697 6.686 401.21 52.61)"><circle r="0.47" fill="url(#skirt0)"/></g>
<g transform="matrix(11.465 -0.105 2.697 6.686 401.71 51.51)"><circle r="0.33" fill="url(#dtR)"/></g>
<g transform="matrix(11.472 -0.105 2.946 6.685 412.68 52.51)"><circle r="0.47" fill="url(#skirt0)"/></g>
<g transform="matrix(11.472 -0.105 2.946 6.685 413.18 51.41)"><circle r="0.33" fill="url(#dtR)"/></g>
<g transform="matrix(11.479 -0.105 3.195 6.684 424.16 52.40)"><circle r="0.47" fill="url(#skirt0)"/></g>
<g transform="matrix(11.479 -0.105 3.195 6.684 424.66 51.30)"><circle r="0.33" fill="url(#dtR)"/></g>
<g transform="matrix(11.643 -0.104 -2.342 7.080 170.41 61.25)"><circle r="0.47" fill="url(#skirt0)"/></g>
<g transform="matrix(11.643 -0.104 -2.342 7.080 170.91 60.15)"><circle r="0.31" fill="url(#dtO)"/></g>
<g transform="matrix(11.650 -0.104 -2.085 7.079 182.06 61.15)"><circle r="0.47" fill="url(#skirt0)"/></g>
<g transform="matrix(11.650 -0.104 -2.085 7.079 182.56 60.05)"><circle r="0.31" fill="url(#dtO)"/></g>
<g transform="matrix(11.664 -0.104 -1.571 7.077 205.37 60.94)"><circle r="0.47" fill="url(#skirt0)"/></g>
<g transform="matrix(11.664 -0.104 -1.571 7.077 205.87 59.84)"><circle r="0.31" fill="url(#dtO)"/></g>
<g transform="matrix(11.671 -0.104 -1.314 7.077 217.04 60.84)"><circle r="0.47" fill="url(#skirt0)"/></g>
<g transform="matrix(11.671 -0.104 -1.314 7.077 217.54 59.74)"><circle r="0.31" fill="url(#dtO)"/></g>
<g transform="matrix(11.678 -0.104 -1.056 7.076 228.71 60.73)"><circle r="0.47" fill="url(#skirt0)"/></g>
<g transform="matrix(11.678 -0.104 -1.056 7.076 229.21 59.63)"><circle r="0.31" fill="url(#dtO)"/></g>
<g transform="matrix(11.692 -0.105 -0.539 7.074 252.08 60.52)"><circle r="0.47" fill="url(#skirt0)"/></g>
<g transform="matrix(11.692 -0.105 -0.539 7.074 252.58 59.42)"><circle r="0.27" fill="url(#dtY)"/></g>
<g transform="matrix(11.699 -0.105 -0.280 7.073 263.78 60.42)"><circle r="0.47" fill="url(#skirt0)"/></g>
<g transform="matrix(11.699 -0.105 -0.280 7.073 264.28 59.32)"><circle r="0.31" fill="url(#dtO)"/></g>
<g transform="matrix(11.706 -0.105 -0.021 7.072 275.48 60.31)"><circle r="0.47" fill="url(#skirt0)"/></g>
<g transform="matrix(11.706 -0.105 -0.021 7.072 275.98 59.21)"><circle r="0.31" fill="url(#dtO)"/></g>
<g transform="matrix(11.735 -0.105 1.018 7.068 322.36 59.89)"><circle r="0.47" fill="url(#skirt0)"/></g>
<g transform="matrix(11.735 -0.105 1.018 7.068 322.86 58.79)"><circle r="0.31" fill="url(#dtO)"/></g>
<g transform="matrix(11.742 -0.105 1.279 7.068 334.10 59.79)"><circle r="0.47" fill="url(#skirt0)"/></g>
<g transform="matrix(11.742 -0.105 1.279 7.068 334.60 58.69)"><circle r="0.31" fill="url(#dtO)"/></g>
<g transform="matrix(11.777 -0.105 2.587 7.063 392.90 59.26)"><circle r="0.47" fill="url(#skirt0)"/></g>
<g transform="matrix(11.777 -0.105 2.587 7.063 393.40 58.16)"><circle r="0.33" fill="url(#dtR)"/></g>
<g transform="matrix(11.785 -0.105 2.849 7.062 404.68 59.16)"><circle r="0.47" fill="url(#skirt0)"/></g>
<g transform="matrix(11.785 -0.105 2.849 7.062 405.18 58.06)"><circle r="0.33" fill="url(#dtR)"/></g>
<g transform="matrix(11.950 -0.105 -3.288 7.490 131.52 68.50)"><circle r="0.47" fill="url(#skirt0)"/></g>
<g transform="matrix(11.950 -0.105 -3.288 7.490 132.02 67.40)"><circle r="0.31" fill="url(#dtO)"/></g>
<g transform="matrix(11.957 -0.105 -3.018 7.489 143.47 68.40)"><circle r="0.47" fill="url(#skirt0)"/></g>
<g transform="matrix(11.957 -0.105 -3.018 7.489 143.97 67.30)"><circle r="0.31" fill="url(#dtO)"/></g>
<g transform="matrix(11.980 -0.105 -2.205 7.487 179.38 68.08)"><circle r="0.47" fill="url(#skirt0)"/></g>
<g transform="matrix(11.980 -0.105 -2.205 7.487 179.88 66.98)"><circle r="0.27" fill="url(#dtY)"/></g>
<g transform="matrix(11.987 -0.105 -1.934 7.486 191.36 67.98)"><circle r="0.47" fill="url(#skirt0)"/></g>
<g transform="matrix(11.987 -0.105 -1.934 7.486 191.86 66.88)"><circle r="0.27" fill="url(#dtY)"/></g>
<g transform="matrix(12.002 -0.105 -1.389 7.485 215.35 67.77)"><circle r="0.47" fill="url(#skirt0)"/></g>
<g transform="matrix(12.002 -0.105 -1.389 7.485 215.85 66.67)"><circle r="0.27" fill="url(#dtY)"/></g>
<g transform="matrix(12.010 -0.105 -1.117 7.484 227.36 67.66)"><circle r="0.47" fill="url(#skirt0)"/></g>
<g transform="matrix(12.010 -0.105 -1.117 7.484 227.86 66.56)"><circle r="0.27" fill="url(#dtY)"/></g>
<g transform="matrix(12.017 -0.105 -0.844 7.483 239.37 67.56)"><circle r="0.47" fill="url(#skirt0)"/></g>
<g transform="matrix(12.017 -0.105 -0.844 7.483 239.87 66.46)"><circle r="0.27" fill="url(#dtY)"/></g>
<g transform="matrix(12.024 -0.105 -0.570 7.482 251.39 67.45)"><circle r="0.47" fill="url(#skirt0)"/></g>
<g transform="matrix(12.024 -0.105 -0.570 7.482 251.89 66.35)"><circle r="0.27" fill="url(#dtY)"/></g>
<g transform="matrix(12.032 -0.106 -0.297 7.481 263.42 67.35)"><circle r="0.47" fill="url(#skirt0)"/></g>
<g transform="matrix(12.032 -0.106 -0.297 7.481 263.92 66.25)"><circle r="0.27" fill="url(#dtY)"/></g>
<g transform="matrix(12.069 -0.106 1.077 7.477 323.67 66.82)"><circle r="0.47" fill="url(#skirt0)"/></g>
<g transform="matrix(12.069 -0.106 1.077 7.477 324.17 65.72)"><circle r="0.31" fill="url(#dtO)"/></g>
<g transform="matrix(12.077 -0.106 1.353 7.476 335.75 66.71)"><circle r="0.47" fill="url(#skirt0)"/></g>
<g transform="matrix(12.077 -0.106 1.353 7.476 336.25 65.61)"><circle r="0.31" fill="url(#dtO)"/></g>
<g transform="matrix(12.115 -0.106 2.737 7.472 396.22 66.18)"><circle r="0.47" fill="url(#skirt0)"/></g>
<g transform="matrix(12.115 -0.106 2.737 7.472 396.72 65.08)"><circle r="0.33" fill="url(#dtR)"/></g>
<g transform="matrix(12.122 -0.106 3.014 7.471 408.34 66.08)"><circle r="0.47" fill="url(#skirt0)"/></g>
<g transform="matrix(12.122 -0.106 3.014 7.471 408.84 64.98)"><circle r="0.33" fill="url(#dtR)"/></g>
<g transform="matrix(12.297 -0.106 -3.483 7.934 127.29 75.84)"><circle r="0.47" fill="url(#skirt0)"/></g>
<g transform="matrix(12.297 -0.106 -3.483 7.934 127.79 74.74)"><circle r="0.31" fill="url(#dtO)"/></g>
<g transform="matrix(12.305 -0.106 -3.197 7.933 139.59 75.74)"><circle r="0.47" fill="url(#skirt0)"/></g>
<g transform="matrix(12.305 -0.106 -3.197 7.933 140.09 74.64)"><circle r="0.31" fill="url(#dtO)"/></g>
<g transform="matrix(12.313 -0.106 -2.910 7.933 151.90 75.63)"><circle r="0.47" fill="url(#skirt0)"/></g>
<g transform="matrix(12.313 -0.106 -2.910 7.933 152.40 74.53)"><circle r="0.31" fill="url(#dtO)"/></g>
<g transform="matrix(12.337 -0.106 -2.048 7.930 188.87 75.32)"><circle r="0.47" fill="url(#skirt0)"/></g>
<g transform="matrix(12.337 -0.106 -2.048 7.930 189.37 74.22)"><circle r="0.27" fill="url(#dtY)"/></g>
<g transform="matrix(12.353 -0.106 -1.472 7.929 213.56 75.10)"><circle r="0.47" fill="url(#skirt0)"/></g>
<g transform="matrix(12.353 -0.106 -1.472 7.929 214.06 74.00)"><circle r="0.27" fill="url(#dtY)"/></g>
<g transform="matrix(12.361 -0.106 -1.183 7.928 225.92 75.00)"><circle r="0.47" fill="url(#skirt0)"/></g>
<g transform="matrix(12.361 -0.106 -1.183 7.928 226.42 73.90)"><circle r="0.27" fill="url(#dtY)"/></g>
<g transform="matrix(12.368 -0.106 -0.894 7.928 238.28 74.89)"><circle r="0.47" fill="url(#skirt0)"/></g>
<g transform="matrix(12.368 -0.106 -0.894 7.928 238.78 73.79)"><circle r="0.27" fill="url(#dtY)"/></g>
<g transform="matrix(12.376 -0.106 -0.604 7.927 250.66 74.79)"><circle r="0.47" fill="url(#skirt0)"/></g>
<g transform="matrix(12.376 -0.106 -0.604 7.927 251.16 73.69)"><circle r="0.27" fill="url(#dtY)"/></g>
<g transform="matrix(12.424 -0.107 1.141 7.922 325.06 74.15)"><circle r="0.47" fill="url(#skirt0)"/></g>
<g transform="matrix(12.424 -0.107 1.141 7.922 325.56 73.05)"><circle r="0.31" fill="url(#dtO)"/></g>
<g transform="matrix(12.432 -0.107 1.433 7.922 337.49 74.04)"><circle r="0.47" fill="url(#skirt0)"/></g>
<g transform="matrix(12.432 -0.107 1.433 7.922 337.99 72.94)"><circle r="0.31" fill="url(#dtO)"/></g>
<g transform="matrix(12.472 -0.107 2.900 7.918 399.75 73.51)"><circle r="0.47" fill="url(#skirt0)"/></g>
<g transform="matrix(12.472 -0.107 2.900 7.918 400.25 72.41)"><circle r="0.33" fill="url(#dtR)"/></g>
<g transform="matrix(12.480 -0.107 3.194 7.917 412.22 73.40)"><circle r="0.47" fill="url(#skirt0)"/></g>
<g transform="matrix(12.480 -0.107 3.194 7.917 412.72 72.30)"><circle r="0.33" fill="url(#dtR)"/></g>
<g transform="matrix(12.674 -0.106 -3.392 8.418 135.47 83.52)"><circle r="0.47" fill="url(#skirt0)"/></g>
<g transform="matrix(12.674 -0.106 -3.392 8.418 135.97 82.42)"><circle r="0.31" fill="url(#dtO)"/></g>
<g transform="matrix(12.682 -0.106 -3.088 8.417 148.15 83.42)"><circle r="0.47" fill="url(#skirt0)"/></g>
<g transform="matrix(12.682 -0.106 -3.088 8.417 148.65 82.32)"><circle r="0.31" fill="url(#dtO)"/></g>
<g transform="matrix(12.691 -0.106 -2.784 8.416 160.84 83.31)"><circle r="0.47" fill="url(#skirt0)"/></g>
<g transform="matrix(12.691 -0.106 -2.784 8.416 161.34 82.21)"><circle r="0.31" fill="url(#dtO)"/></g>
<g transform="matrix(12.708 -0.106 -2.174 8.415 186.24 83.10)"><circle r="0.47" fill="url(#skirt0)"/></g>
<g transform="matrix(12.708 -0.106 -2.174 8.415 186.74 82.00)"><circle r="0.27" fill="url(#dtY)"/></g>
<g transform="matrix(12.716 -0.107 -1.868 8.415 198.95 82.99)"><circle r="0.47" fill="url(#skirt0)"/></g>
<g transform="matrix(12.716 -0.107 -1.868 8.415 199.45 81.89)"><circle r="0.27" fill="url(#dtY)"/></g>
<g transform="matrix(12.724 -0.107 -1.562 8.414 211.67 82.88)"><circle r="0.47" fill="url(#skirt0)"/></g>
<g transform="matrix(12.724 -0.107 -1.562 8.414 212.17 81.78)"><circle r="0.27" fill="url(#dtY)"/></g>
<g transform="matrix(12.733 -0.107 -1.255 8.413 224.40 82.78)"><circle r="0.47" fill="url(#skirt0)"/></g>
<g transform="matrix(12.733 -0.107 -1.255 8.413 224.90 81.68)"><circle r="0.27" fill="url(#dtY)"/></g>
<g transform="matrix(12.741 -0.107 -0.948 8.413 237.13 82.67)"><circle r="0.47" fill="url(#skirt0)"/></g>
<g transform="matrix(12.741 -0.107 -0.948 8.413 237.63 81.57)"><circle r="0.27" fill="url(#dtY)"/></g>
<g transform="matrix(12.749 -0.107 -0.641 8.412 249.88 82.56)"><circle r="0.47" fill="url(#skirt0)"/></g>
<g transform="matrix(12.749 -0.107 -0.641 8.412 250.38 81.46)"><circle r="0.27" fill="url(#dtY)"/></g>
<g transform="matrix(12.758 -0.107 -0.334 8.412 262.63 82.46)"><circle r="0.47" fill="url(#skirt0)"/></g>
<g transform="matrix(12.758 -0.107 -0.334 8.412 263.13 81.36)"><circle r="0.27" fill="url(#dtY)"/></g>
<g transform="matrix(12.800 -0.107 1.211 8.409 326.53 81.92)"><circle r="0.47" fill="url(#skirt0)"/></g>
<g transform="matrix(12.800 -0.107 1.211 8.409 327.03 80.82)"><circle r="0.31" fill="url(#dtO)"/></g>
<g transform="matrix(12.809 -0.107 1.521 8.408 339.33 81.81)"><circle r="0.47" fill="url(#skirt0)"/></g>
<g transform="matrix(12.809 -0.107 1.521 8.408 339.83 80.71)"><circle r="0.31" fill="url(#dtO)"/></g>
<g transform="matrix(12.851 -0.108 3.078 8.405 403.48 81.28)"><circle r="0.47" fill="url(#skirt0)"/></g>
<g transform="matrix(12.851 -0.108 3.078 8.405 403.98 80.18)"><circle r="0.33" fill="url(#dtR)"/></g>
<g transform="matrix(12.860 -0.108 3.391 8.404 416.34 81.17)"><circle r="0.47" fill="url(#skirt0)"/></g>
<g transform="matrix(12.860 -0.108 3.391 8.404 416.84 80.07)"><circle r="0.33" fill="url(#dtR)"/></g>
<g transform="matrix(13.048 -0.107 -4.251 8.949 104.99 92.00)"><circle r="0.47" fill="url(#skirt0)"/></g>
<g transform="matrix(13.048 -0.107 -4.251 8.949 105.49 90.90)"><circle r="0.31" fill="url(#dtO)"/></g>
<g transform="matrix(13.083 -0.107 -2.959 8.947 157.25 91.57)"><circle r="0.47" fill="url(#skirt0)"/></g>
<g transform="matrix(13.083 -0.107 -2.959 8.947 157.75 90.47)"><circle r="0.31" fill="url(#dtO)"/></g>
<g transform="matrix(13.092 -0.107 -2.635 8.946 170.34 91.47)"><circle r="0.47" fill="url(#skirt0)"/></g>
<g transform="matrix(13.092 -0.107 -2.635 8.946 170.84 90.37)"><circle r="0.31" fill="url(#dtO)"/></g>
<g transform="matrix(13.110 -0.107 -1.986 8.946 196.54 91.25)"><circle r="0.47" fill="url(#skirt0)"/></g>
<g transform="matrix(13.110 -0.107 -1.986 8.946 197.04 90.15)"><circle r="0.31" fill="url(#dtO)"/></g>
<g transform="matrix(13.128 -0.107 -1.335 8.945 222.78 91.04)"><circle r="0.47" fill="url(#skirt0)"/></g>
<g transform="matrix(13.128 -0.107 -1.335 8.945 223.28 89.94)"><circle r="0.27" fill="url(#dtY)"/></g>
<g transform="matrix(13.146 -0.107 -0.682 8.944 249.05 90.82)"><circle r="0.47" fill="url(#skirt0)"/></g>
<g transform="matrix(13.146 -0.107 -0.682 8.944 249.55 89.72)"><circle r="0.27" fill="url(#dtY)"/></g>
<g transform="matrix(13.155 -0.107 -0.355 8.943 262.20 90.72)"><circle r="0.47" fill="url(#skirt0)"/></g>
<g transform="matrix(13.155 -0.107 -0.355 8.943 262.70 89.62)"><circle r="0.27" fill="url(#dtY)"/></g>
<g transform="matrix(13.164 -0.107 -0.027 8.943 275.36 90.61)"><circle r="0.47" fill="url(#skirt0)"/></g>
<g transform="matrix(13.164 -0.107 -0.027 8.943 275.86 89.51)"><circle r="0.31" fill="url(#dtO)"/></g>
<g transform="matrix(13.200 -0.108 1.288 8.941 328.09 90.18)"><circle r="0.47" fill="url(#skirt0)"/></g>
<g transform="matrix(13.200 -0.108 1.288 8.941 328.59 89.08)"><circle r="0.31" fill="url(#dtO)"/></g>
<g transform="matrix(13.209 -0.108 1.618 8.940 341.29 90.07)"><circle r="0.47" fill="url(#skirt0)"/></g>
<g transform="matrix(13.209 -0.108 1.618 8.940 341.79 88.97)"><circle r="0.31" fill="url(#dtO)"/></g>
<g transform="matrix(13.254 -0.108 3.273 8.938 407.45 89.53)"><circle r="0.47" fill="url(#skirt0)"/></g>
<g transform="matrix(13.254 -0.108 3.273 8.938 407.95 88.43)"><circle r="0.33" fill="url(#dtR)"/></g>
<g transform="matrix(13.263 -0.108 3.606 8.937 420.71 89.42)"><circle r="0.47" fill="url(#skirt0)"/></g>
<g transform="matrix(13.263 -0.108 3.606 8.937 421.21 88.32)"><circle r="0.33" fill="url(#dtR)"/></g>
<g transform="matrix(13.463 -0.107 -4.527 9.530 99.50 100.79)"><circle r="0.47" fill="url(#skirt0)"/></g>
<g transform="matrix(13.463 -0.107 -4.527 9.530 100.00 99.69)"><circle r="0.33" fill="url(#dtR)"/></g>
<g transform="matrix(13.473 -0.107 -4.184 9.530 112.97 100.69)"><circle r="0.47" fill="url(#skirt0)"/></g>
<g transform="matrix(13.473 -0.107 -4.184 9.530 113.47 99.59)"><circle r="0.33" fill="url(#dtR)"/></g>
<g transform="matrix(13.482 -0.107 -3.840 9.530 126.45 100.58)"><circle r="0.47" fill="url(#skirt0)"/></g>
<g transform="matrix(13.482 -0.107 -3.840 9.530 126.95 99.48)"><circle r="0.33" fill="url(#dtR)"/></g>
<g transform="matrix(13.510 -0.107 -2.807 9.529 166.94 100.26)"><circle r="0.47" fill="url(#skirt0)"/></g>
<g transform="matrix(13.510 -0.107 -2.807 9.529 167.44 99.16)"><circle r="0.31" fill="url(#dtO)"/></g>
<g transform="matrix(13.520 -0.107 -2.461 9.529 180.45 100.15)"><circle r="0.47" fill="url(#skirt0)"/></g>
<g transform="matrix(13.520 -0.107 -2.461 9.529 180.95 99.05)"><circle r="0.31" fill="url(#dtO)"/></g>
<g transform="matrix(13.529 -0.107 -2.115 9.528 193.98 100.04)"><circle r="0.47" fill="url(#skirt0)"/></g>
<g transform="matrix(13.529 -0.107 -2.115 9.528 194.48 98.94)"><circle r="0.33" fill="url(#dtR)"/></g>
<g transform="matrix(13.539 -0.107 -1.769 9.528 207.51 99.94)"><circle r="0.47" fill="url(#skirt0)"/></g>
<g transform="matrix(13.539 -0.107 -1.769 9.528 208.01 98.84)"><circle r="0.33" fill="url(#dtR)"/></g>
<g transform="matrix(13.548 -0.108 -1.422 9.528 221.06 99.83)"><circle r="0.47" fill="url(#skirt0)"/></g>
<g transform="matrix(13.548 -0.108 -1.422 9.528 221.56 98.73)"><circle r="0.33" fill="url(#dtR)"/></g>
<g transform="matrix(13.577 -0.108 -0.378 9.527 261.74 99.51)"><circle r="0.47" fill="url(#skirt0)"/></g>
<g transform="matrix(13.577 -0.108 -0.378 9.527 262.24 98.41)"><circle r="0.31" fill="url(#dtO)"/></g>
<g transform="matrix(13.587 -0.108 -0.029 9.527 275.33 99.40)"><circle r="0.47" fill="url(#skirt0)"/></g>
<g transform="matrix(13.587 -0.108 -0.029 9.527 275.83 98.30)"><circle r="0.31" fill="url(#dtO)"/></g>
<g transform="matrix(13.596 -0.108 0.321 9.526 288.92 99.29)"><circle r="0.47" fill="url(#skirt0)"/></g>
<g transform="matrix(13.596 -0.108 0.321 9.526 289.42 98.19)"><circle r="0.31" fill="url(#dtO)"/></g>
<g transform="matrix(13.625 -0.108 1.372 9.525 329.75 98.97)"><circle r="0.47" fill="url(#skirt0)"/></g>
<g transform="matrix(13.625 -0.108 1.372 9.525 330.25 97.87)"><circle r="0.33" fill="url(#dtR)"/></g>
<g transform="matrix(13.634 -0.108 1.723 9.525 343.38 98.86)"><circle r="0.47" fill="url(#skirt0)"/></g>
<g transform="matrix(13.634 -0.108 1.723 9.525 343.88 97.76)"><circle r="0.33" fill="url(#dtR)"/></g>
<g transform="matrix(13.683 -0.109 3.488 9.524 411.67 98.32)"><circle r="0.47" fill="url(#skirt0)"/></g>
<g transform="matrix(13.683 -0.109 3.488 9.524 412.17 97.22)"><circle r="0.33" fill="url(#dtR)"/></g>
<g transform="matrix(13.692 -0.109 3.842 9.523 425.36 98.21)"><circle r="0.47" fill="url(#skirt0)"/></g>
<g transform="matrix(13.692 -0.109 3.842 9.523 425.86 97.11)"><circle r="0.33" fill="url(#dtR)"/></g>
<g transform="matrix(13.906 -0.107 -4.831 10.170 93.66 110.17)"><circle r="0.47" fill="url(#skirt0)"/></g>
<g transform="matrix(13.906 -0.107 -4.831 10.170 94.16 109.07)"><circle r="0.33" fill="url(#dtR)"/></g>
<g transform="matrix(13.916 -0.107 -4.465 10.170 107.57 110.06)"><circle r="0.47" fill="url(#skirt0)"/></g>
<g transform="matrix(13.916 -0.107 -4.465 10.170 108.07 108.96)"><circle r="0.33" fill="url(#dtR)"/></g>
<g transform="matrix(13.926 -0.107 -4.099 10.170 121.49 109.96)"><circle r="0.47" fill="url(#skirt0)"/></g>
<g transform="matrix(13.926 -0.107 -4.099 10.170 121.99 108.86)"><circle r="0.33" fill="url(#dtR)"/></g>
<g transform="matrix(13.936 -0.107 -3.731 10.170 135.42 109.85)"><circle r="0.47" fill="url(#skirt0)"/></g>
<g transform="matrix(13.936 -0.107 -3.731 10.170 135.92 108.75)"><circle r="0.33" fill="url(#dtR)"/></g>
<g transform="matrix(13.946 -0.107 -3.364 10.170 149.36 109.74)"><circle r="0.47" fill="url(#skirt0)"/></g>
<g transform="matrix(13.946 -0.107 -3.364 10.170 149.86 108.64)"><circle r="0.33" fill="url(#dtR)"/></g>
<g transform="matrix(13.956 -0.107 -2.996 10.170 163.31 109.63)"><circle r="0.47" fill="url(#skirt0)"/></g>
<g transform="matrix(13.956 -0.107 -2.996 10.170 163.81 108.53)"><circle r="0.33" fill="url(#dtR)"/></g>
<g transform="matrix(13.966 -0.107 -2.627 10.170 177.28 109.53)"><circle r="0.47" fill="url(#skirt0)"/></g>
<g transform="matrix(13.966 -0.107 -2.627 10.170 177.78 108.43)"><circle r="0.33" fill="url(#dtR)"/></g>
<g transform="matrix(13.977 -0.108 -2.258 10.170 191.25 109.42)"><circle r="0.47" fill="url(#skirt0)"/></g>
<g transform="matrix(13.977 -0.108 -2.258 10.170 191.75 108.32)"><circle r="0.33" fill="url(#dtR)"/></g>
<g transform="matrix(13.987 -0.108 -1.888 10.170 205.23 109.31)"><circle r="0.47" fill="url(#skirt0)"/></g>
<g transform="matrix(13.987 -0.108 -1.888 10.170 205.73 108.21)"><circle r="0.33" fill="url(#dtR)"/></g>
<g transform="matrix(13.997 -0.108 -1.517 10.170 219.22 109.20)"><circle r="0.47" fill="url(#skirt0)"/></g>
<g transform="matrix(13.997 -0.108 -1.517 10.170 219.72 108.10)"><circle r="0.33" fill="url(#dtR)"/></g>
<g transform="matrix(14.038 -0.108 -0.031 10.170 275.29 108.77)"><circle r="0.47" fill="url(#skirt0)"/></g>
<g transform="matrix(14.038 -0.108 -0.031 10.170 275.79 107.67)"><circle r="0.31" fill="url(#dtO)"/></g>
<g transform="matrix(14.048 -0.108 0.342 10.170 289.33 108.66)"><circle r="0.47" fill="url(#skirt0)"/></g>
<g transform="matrix(14.048 -0.108 0.342 10.170 289.83 107.56)"><circle r="0.31" fill="url(#dtO)"/></g>
<g transform="matrix(14.078 -0.108 1.465 10.169 331.52 108.34)"><circle r="0.47" fill="url(#skirt0)"/></g>
<g transform="matrix(14.078 -0.108 1.465 10.169 332.02 107.24)"><circle r="0.33" fill="url(#dtR)"/></g>
<g transform="matrix(14.089 -0.108 1.840 10.169 345.60 108.23)"><circle r="0.47" fill="url(#skirt0)"/></g>
<g transform="matrix(14.089 -0.108 1.840 10.169 346.10 107.13)"><circle r="0.33" fill="url(#dtR)"/></g>
<g transform="matrix(14.140 -0.109 3.724 10.169 416.18 107.69)"><circle r="0.47" fill="url(#skirt0)"/></g>
<g transform="matrix(14.140 -0.109 3.724 10.169 416.68 106.59)"><circle r="0.33" fill="url(#dtR)"/></g>
<g transform="matrix(14.150 -0.109 4.103 10.169 430.32 107.58)"><circle r="0.47" fill="url(#skirt0)"/></g>
<g transform="matrix(14.150 -0.109 4.103 10.169 430.82 106.48)"><circle r="0.33" fill="url(#dtR)"/></g>
</g>
<path d="M58.8 108.3H70" stroke="#000" stroke-width="2.3"/><path d="M78.3 108.3L68.3 104.6V112Z" fill="#000"/>
<path d="M495 105.8H484" stroke="#000" stroke-width="2.3"/><path d="M475.2 105.8L485.2 102.1V109.5Z" fill="#000"/>
<text x="7.5" y="14" font-size="10.5" font-family="Liberation Sans, Arial, sans-serif" fill="#222">A</text>
<text x="284" y="11.6" font-size="11" text-anchor="middle" font-family="Liberation Sans, Arial, sans-serif" fill="#333">mm</text>
<text x="124.3" y="25.4" font-size="6.6" font-weight="bold" text-anchor="middle" font-family="Liberation Sans, Arial, sans-serif" fill="#333">0</text>
<text x="204.5" y="19.6" font-size="6.6" font-weight="bold" text-anchor="middle" font-family="Liberation Sans, Arial, sans-serif" fill="#333">0.75</text>
<text x="283.2" y="19.6" font-size="6.6" font-weight="bold" text-anchor="middle" font-family="Liberation Sans, Arial, sans-serif" fill="#333">1.5</text>
<text x="358" y="19.6" font-size="6.6" font-weight="bold" text-anchor="middle" font-family="Liberation Sans, Arial, sans-serif" fill="#333">2.25</text>
<text x="426.5" y="19.6" font-size="6.6" font-weight="bold" text-anchor="middle" font-family="Liberation Sans, Arial, sans-serif" fill="#333">3.0</text>
<text x="102.5" y="48" font-size="6.6" font-weight="bold" text-anchor="middle" font-family="Liberation Sans, Arial, sans-serif" fill="#333">0.44</text>
<text x="80.8" y="78" font-size="6.6" font-weight="bold" text-anchor="middle" font-family="Liberation Sans, Arial, sans-serif" fill="#333">0.87</text>
<text x="52.5" y="117.4" font-size="6.6" font-weight="bold" text-anchor="middle" font-family="Liberation Sans, Arial, sans-serif" fill="#333">1.31</text>
<text x="22.3" y="165.5" font-size="6.6" font-weight="bold" text-anchor="middle" font-family="Liberation Sans, Arial, sans-serif" fill="#333">1.75</text>
<text transform="translate(69.5,74) rotate(-55)" font-size="11" text-anchor="middle" font-family="Liberation Sans, Arial, sans-serif" fill="#1a1a1a">mm</text>
<rect x="514" y="18.5" width="9.8" height="107.5" fill="url(#cb)"/>
<line x1="524" y1="18.5" x2="524" y2="126" stroke="#555" stroke-width="0.6"/>
<line x1="524" y1="18.4" x2="526" y2="18.4" stroke="#777" stroke-width="0.5"/>
<text x="540" y="20.7" font-size="6.6" text-anchor="end" font-family="Liberation Sans, Arial, sans-serif" fill="#333">5.0</text>
<line x1="524" y1="33.8" x2="526" y2="33.8" stroke="#777" stroke-width="0.5"/>
<text x="540" y="36.0" font-size="6.6" text-anchor="end" font-family="Liberation Sans, Arial, sans-serif" fill="#333">4.0</text>
<line x1="524" y1="49.1" x2="526" y2="49.1" stroke="#777" stroke-width="0.5"/>
<text x="540" y="51.4" font-size="6.6" text-anchor="end" font-family="Liberation Sans, Arial, sans-serif" fill="#333">3.0</text>
<line x1="524" y1="64.4" x2="526" y2="64.4" stroke="#777" stroke-width="0.5"/>
<text x="540" y="66.7" font-size="6.6" text-anchor="end" font-family="Liberation Sans, Arial, sans-serif" fill="#333">2.0</text>
<line x1="524" y1="79.8" x2="526" y2="79.8" stroke="#777" stroke-width="0.5"/>
<text x="540" y="82.1" font-size="6.6" text-anchor="end" font-family="Liberation Sans, Arial, sans-serif" fill="#333">1.0</text>
<line x1="524" y1="95.2" x2="526" y2="95.2" stroke="#777" stroke-width="0.5"/>
<text x="540" y="97.5" font-size="6.6" text-anchor="end" font-family="Liberation Sans, Arial, sans-serif" fill="#333">0.0</text>
<line x1="524" y1="110.5" x2="526" y2="110.5" stroke="#777" stroke-width="0.5"/>
<text x="540" y="112.8" font-size="6.6" text-anchor="end" font-family="Liberation Sans, Arial, sans-serif" fill="#333">-1.0</text>
<line x1="524" y1="125.8" x2="526" y2="125.8" stroke="#777" stroke-width="0.5"/>
<text x="540" y="128.2" font-size="6.6" text-anchor="end" font-family="Liberation Sans, Arial, sans-serif" fill="#333">-2.0</text>
<text transform="translate(510.5,65.8) rotate(-90)" font-size="11" text-anchor="middle" font-family="Liberation Sans, Arial, sans-serif" fill="#333">nm</text>
<rect x="28.3" y="183.9" width="332.7" height="95.5" fill="none" stroke="#bdbdbd" stroke-width="1"/>
<line x1="39.81" y1="279.4" x2="39.81" y2="277.8" stroke="#c4c4c4" stroke-width="0.7"/>
<line x1="39.81" y1="183.9" x2="39.81" y2="185.5" stroke="#c4c4c4" stroke-width="0.7"/>
<line x1="51.32" y1="279.4" x2="51.32" y2="277.8" stroke="#c4c4c4" stroke-width="0.7"/>
<line x1="51.32" y1="183.9" x2="51.32" y2="185.5" stroke="#c4c4c4" stroke-width="0.7"/>
<line x1="62.83" y1="279.4" x2="62.83" y2="277.8" stroke="#c4c4c4" stroke-width="0.7"/>
<line x1="62.83" y1="183.9" x2="62.83" y2="185.5" stroke="#c4c4c4" stroke-width="0.7"/>
<line x1="74.34" y1="279.4" x2="74.34" y2="277.8" stroke="#c4c4c4" stroke-width="0.7"/>
<line x1="74.34" y1="183.9" x2="74.34" y2="185.5" stroke="#c4c4c4" stroke-width="0.7"/>
<line x1="85.85" y1="279.4" x2="85.85" y2="277.8" stroke="#c4c4c4" stroke-width="0.7"/>
<line x1="85.85" y1="183.9" x2="85.85" y2="185.5" stroke="#c4c4c4" stroke-width="0.7"/>
<line x1="97.36" y1="279.4" x2="97.36" y2="277.8" stroke="#c4c4c4" stroke-width="0.7"/>
<line x1="97.36" y1="183.9" x2="97.36" y2="185.5" stroke="#c4c4c4" stroke-width="0.7"/>
<line x1="108.87" y1="279.4" x2="108.87" y2="277.8" stroke="#c4c4c4" stroke-width="0.7"/>
<line x1="108.87" y1="183.9" x2="108.87" y2="185.5" stroke="#c4c4c4" stroke-width="0.7"/>
<line x1="120.38" y1="279.4" x2="120.38" y2="277.8" stroke="#c4c4c4" stroke-width="0.7"/>
<line x1="120.38" y1="183.9" x2="120.38" y2="185.5" stroke="#c4c4c4" stroke-width="0.7"/>
<line x1="131.89" y1="279.4" x2="131.89" y2="277.8" stroke="#c4c4c4" stroke-width="0.7"/>
<line x1="131.89" y1="183.9" x2="131.89" y2="185.5" stroke="#c4c4c4" stroke-width="0.7"/>
<line x1="143.40" y1="279.4" x2="143.40" y2="277.8" stroke="#c4c4c4" stroke-width="0.7"/>
<line x1="143.40" y1="183.9" x2="143.40" y2="185.5" stroke="#c4c4c4" stroke-width="0.7"/>
<line x1="154.91" y1="279.4" x2="154.91" y2="277.8" stroke="#c4c4c4" stroke-width="0.7"/>
<line x1="154.91" y1="183.9" x2="154.91" y2="185.5" stroke="#c4c4c4" stroke-width="0.7"/>
<line x1="166.42" y1="279.4" x2="166.42" y2="277.8" stroke="#c4c4c4" stroke-width="0.7"/>
<line x1="166.42" y1="183.9" x2="166.42" y2="185.5" stroke="#c4c4c4" stroke-width="0.7"/>
<line x1="177.93" y1="279.4" x2="177.93" y2="277.8" stroke="#c4c4c4" stroke-width="0.7"/>
<line x1="177.93" y1="183.9" x2="177.93" y2="185.5" stroke="#c4c4c4" stroke-width="0.7"/>
<line x1="189.44" y1="279.4" x2="189.44" y2="277.8" stroke="#c4c4c4" stroke-width="0.7"/>
<line x1="189.44" y1="183.9" x2="189.44" y2="185.5" stroke="#c4c4c4" stroke-width="0.7"/>
<line x1="200.95" y1="279.4" x2="200.95" y2="277.8" stroke="#c4c4c4" stroke-width="0.7"/>
<line x1="200.95" y1="183.9" x2="200.95" y2="185.5" stroke="#c4c4c4" stroke-width="0.7"/>
<line x1="212.46" y1="279.4" x2="212.46" y2="277.8" stroke="#c4c4c4" stroke-width="0.7"/>
<line x1="212.46" y1="183.9" x2="212.46" y2="185.5" stroke="#c4c4c4" stroke-width="0.7"/>
<line x1="223.97" y1="279.4" x2="223.97" y2="277.8" stroke="#c4c4c4" stroke-width="0.7"/>
<line x1="223.97" y1="183.9" x2="223.97" y2="185.5" stroke="#c4c4c4" stroke-width="0.7"/>
<line x1="235.48" y1="279.4" x2="235.48" y2="277.8" stroke="#c4c4c4" stroke-width="0.7"/>
<line x1="235.48" y1="183.9" x2="235.48" y2="185.5" stroke="#c4c4c4" stroke-width="0.7"/>
<line x1="246.99" y1="279.4" x2="246.99" y2="277.8" stroke="#c4c4c4" stroke-width="0.7"/>
<line x1="246.99" y1="183.9" x2="246.99" y2="185.5" stroke="#c4c4c4" stroke-width="0.7"/>
<line x1="258.50" y1="279.4" x2="258.50" y2="277.8" stroke="#c4c4c4" stroke-width="0.7"/>
<line x1="258.50" y1="183.9" x2="258.50" y2="185.5" stroke="#c4c4c4" stroke-width="0.7"/>
<line x1="270.01" y1="279.4" x2="270.01" y2="277.8" stroke="#c4c4c4" stroke-width="0.7"/>
<line x1="270.01" y1="183.9" x2="270.01" y2="185.5" stroke="#c4c4c4" stroke-width="0.7"/>
<line x1="281.52" y1="279.4" x2="281.52" y2="277.8" stroke="#c4c4c4" stroke-width="0.7"/>
<line x1="281.52" y1="183.9" x2="281.52" y2="185.5" stroke="#c4c4c4" stroke-width="0.7"/>
<line x1="293.03" y1="279.4" x2="293.03" y2="277.8" stroke="#c4c4c4" stroke-width="0.7"/>
<line x1="293.03" y1="183.9" x2="293.03" y2="185.5" stroke="#c4c4c4" stroke-width="0.7"/>
<line x1="304.54" y1="279.4" x2="304.54" y2="277.8" stroke="#c4c4c4" stroke-width="0.7"/>
<line x1="304.54" y1="183.9" x2="304.54" y2="185.5" stroke="#c4c4c4" stroke-width="0.7"/>
<line x1="316.05" y1="279.4" x2="316.05" y2="277.8" stroke="#c4c4c4" stroke-width="0.7"/>
<line x1="316.05" y1="183.9" x2="316.05" y2="185.5" stroke="#c4c4c4" stroke-width="0.7"/>
<line x1="327.56" y1="279.4" x2="327.56" y2="277.8" stroke="#c4c4c4" stroke-width="0.7"/>
<line x1="327.56" y1="183.9" x2="327.56" y2="185.5" stroke="#c4c4c4" stroke-width="0.7"/>
<line x1="339.07" y1="279.4" x2="339.07" y2="277.8" stroke="#c4c4c4" stroke-width="0.7"/>
<line x1="339.07" y1="183.9" x2="339.07" y2="185.5" stroke="#c4c4c4" stroke-width="0.7"/>
<line x1="350.58" y1="279.4" x2="350.58" y2="277.8" stroke="#c4c4c4" stroke-width="0.7"/>
<line x1="350.58" y1="183.9" x2="350.58" y2="185.5" stroke="#c4c4c4" stroke-width="0.7"/>
<line x1="28.3" y1="260.38" x2="29.9" y2="260.38" stroke="#c4c4c4" stroke-width="0.7"/>
<line x1="361.0" y1="260.38" x2="359.4" y2="260.38" stroke="#c4c4c4" stroke-width="0.7"/>
<line x1="28.3" y1="241.36" x2="29.9" y2="241.36" stroke="#c4c4c4" stroke-width="0.7"/>
<line x1="361.0" y1="241.36" x2="359.4" y2="241.36" stroke="#c4c4c4" stroke-width="0.7"/>
<line x1="28.3" y1="222.34" x2="29.9" y2="222.34" stroke="#c4c4c4" stroke-width="0.7"/>
<line x1="361.0" y1="222.34" x2="359.4" y2="222.34" stroke="#c4c4c4" stroke-width="0.7"/>
<line x1="28.3" y1="203.32" x2="29.9" y2="203.32" stroke="#c4c4c4" stroke-width="0.7"/>
<line x1="361.0" y1="203.32" x2="359.4" y2="203.32" stroke="#c4c4c4" stroke-width="0.7"/>
<text x="26.2" y="281.70" font-size="6.6" text-anchor="end" font-family="Liberation Sans, Arial, sans-serif" fill="#333">0</text>
<text x="26.2" y="262.68" font-size="6.6" text-anchor="end" font-family="Liberation Sans, Arial, sans-serif" fill="#333">1</text>
<text x="26.2" y="243.66" font-size="6.6" text-anchor="end" font-family="Liberation Sans, Arial, sans-serif" fill="#333">2</text>
<text x="26.2" y="224.64" font-size="6.6" text-anchor="end" font-family="Liberation Sans, Arial, sans-serif" fill="#333">3</text>
<text x="26.2" y="205.62" font-size="6.6" text-anchor="end" font-family="Liberation Sans, Arial, sans-serif" fill="#333">4</text>
<text x="26.2" y="186.60" font-size="6.6" text-anchor="end" font-family="Liberation Sans, Arial, sans-serif" fill="#333">5</text>
<text x="28.30" y="288.9" font-size="6.6" text-anchor="middle" font-family="Liberation Sans, Arial, sans-serif" fill="#333">0</text>
<text x="85.85" y="288.9" font-size="6.6" text-anchor="middle" font-family="Liberation Sans, Arial, sans-serif" fill="#333">0.5</text>
<text x="143.40" y="288.9" font-size="6.6" text-anchor="middle" font-family="Liberation Sans, Arial, sans-serif" fill="#333">1</text>
<text x="200.95" y="288.9" font-size="6.6" text-anchor="middle" font-family="Liberation Sans, Arial, sans-serif" fill="#333">1.5</text>
<text x="258.50" y="288.9" font-size="6.6" text-anchor="middle" font-family="Liberation Sans, Arial, sans-serif" fill="#333">2</text>
<text x="316.05" y="288.9" font-size="6.6" text-anchor="middle" font-family="Liberation Sans, Arial, sans-serif" fill="#333">2.5</text>
<text x="29.4" y="182.3" font-size="7.4" font-family="Liberation Sans, Arial, sans-serif" fill="#444">×10<tspan font-size="5.6" dy="-3.3">-9</tspan></text>
<text x="343.6" y="300.8" font-size="7.4" font-family="Liberation Sans, Arial, sans-serif" fill="#444">×10<tspan font-size="5.6" dy="-3.3">-3</tspan></text>
<text x="202.5" y="300.8" font-size="8.8" text-anchor="middle" font-family="Liberation Sans, Arial, sans-serif" fill="#333">x /mm</text>
<text transform="translate(19.2,231.2) rotate(-90)" font-size="9.2" text-anchor="middle" font-family="Liberation Sans, Arial, sans-serif" fill="#333">Height /nm</text>
<text x="7" y="184" font-size="10" font-family="Liberation Sans, Arial, sans-serif" fill="#222">C</text>
<path d="M28.5 263.2 L29.4 258.6 L29.9 258.6 L30.5 256.9 L31.1 258.4 L31.7 260.9 L32.8 263.2 L33.4 263.9 L34.0 265.5 L34.5 267.4 L35.1 268.3 L35.7 268.4 L36.2 268.7 L36.8 269.4 L37.3 269.0 L37.9 270.2 L38.1 258.7 L38.5 247.1 L38.9 235.6 L39.5 224.1 L40.1 212.5 L40.8 201.0 L41.5 200.2 L42.2 199.9 L42.9 200.5 L43.7 199.4 L44.4 199.8 L45.1 200.5 L45.8 201.0 L46.7 211.2 L47.5 221.5 L48.2 231.7 L48.8 241.9 L49.2 252.2 L49.5 262.4 L49.7 251.5 L50.0 240.6 L50.5 229.7 L51.0 218.8 L51.6 207.9 L52.2 197.0 L52.9 195.5 L53.6 195.8 L54.3 195.8 L55.1 196.2 L55.8 194.8 L56.5 195.8 L57.2 197.0 L58.0 209.1 L58.7 221.1 L59.3 233.2 L59.8 245.2 L60.2 257.2 L60.4 269.3 L60.6 257.5 L61.0 245.7 L61.5 233.9 L62.1 222.1 L62.8 210.3 L63.6 198.5 L64.3 196.9 L65.0 198.1 L65.7 197.6 L66.5 195.9 L67.2 198.3 L67.9 198.5 L68.6 198.2 L69.3 198.5 L70.1 210.2 L70.8 221.8 L71.4 233.5 L71.9 245.2 L72.3 256.8 L72.5 268.5 L72.7 257.3 L73.1 246.2 L73.7 235.0 L74.3 223.8 L75.0 212.7 L75.8 201.5 L76.6 200.9 L77.4 199.3 L78.2 198.8 L79.0 200.2 L79.8 199.6 L80.6 201.5 L81.4 212.9 L82.1 224.4 L82.7 235.8 L83.3 247.3 L83.7 258.8 L83.9 270.2 L84.1 259.6 L84.5 249.0 L85.1 238.3 L85.7 227.7 L86.4 217.1 L87.2 206.5 L87.9 205.0 L88.6 204.7 L89.3 203.9 L90.1 204.9 L90.8 205.1 L91.5 206.6 L92.2 206.5 L92.8 217.1 L93.4 227.7 L93.9 238.2 L94.3 248.8 L94.6 259.4 L94.8 270.0 L95.0 259.2 L95.4 248.5 L95.9 237.8 L96.5 227.0 L97.2 216.2 L97.9 205.5 L98.6 204.8 L99.4 204.6 L100.1 204.0 L100.9 204.4 L101.6 204.2 L102.4 204.2 L103.1 205.5 L103.8 216.0 L104.5 226.4 L105.1 236.9 L105.6 247.4 L106.0 257.8 L106.2 268.3 L106.4 256.9 L106.8 245.5 L107.3 234.2 L107.9 222.8 L108.6 211.4 L109.3 200.0 L110.0 200.5 L110.7 200.0 L111.4 199.3 L112.1 199.0 L112.8 198.3 L113.5 198.6 L114.2 200.0 L115.0 211.5 L115.7 223.0 L116.4 234.5 L116.9 246.0 L117.4 257.5 L117.6 269.0 L117.8 257.6 L118.3 246.2 L118.8 234.8 L119.5 223.5 L120.2 212.1 L121.0 200.7 L121.8 199.4 L122.5 198.3 L123.3 199.8 L124.1 199.1 L124.8 200.7 L125.6 200.7 L126.3 210.9 L127.0 221.2 L127.6 231.4 L128.1 241.6 L128.5 251.9 L128.7 262.1 L128.9 250.8 L129.3 239.6 L129.8 228.3 L130.4 217.0 L131.1 205.8 L131.8 194.5 L132.6 193.4 L133.4 194.3 L134.2 193.8 L135.0 192.0 L135.8 193.0 L136.6 194.5 L137.5 206.2 L138.3 217.9 L139.1 229.6 L139.7 241.2 L140.1 252.9 L140.4 264.6 L140.6 253.2 L140.9 241.7 L141.2 230.3 L141.7 218.9 L142.2 207.4 L142.8 196.0 L143.5 196.3 L144.2 194.8 L145.0 195.7 L145.7 194.3 L146.4 193.6 L147.2 195.2 L147.9 196.0 L148.6 196.0 L149.5 208.1 L150.4 220.1 L151.1 232.2 L151.7 244.2 L152.2 256.2 L152.5 268.3 L153.4 267.5 L154.5 262.0 L155.2 259.6 L155.9 258.7 L156.7 258.6 L157.5 258.2 L158.1 258.1 L158.6 259.1 L159.2 259.3 L159.8 260.4 L160.4 262.0 L161.5 266.0 L162.5 264.5 L163.5 263.0 L164.1 262.3 L164.6 262.7 L165.2 261.3 L165.8 261.5 L166.3 262.0 L166.9 262.1 L167.6 260.8 L168.2 257.6 L168.9 256.2 L169.6 257.3 L170.3 259.6 L172.0 266.3 L172.7 269.6 L173.3 271.5 L173.9 274.1 L174.5 275.6 L175.1 274.3 L175.6 273.3 L176.2 273.0 L177.9 266.3 L178.5 265.3 L179.0 264.3 L179.6 262.1 L180.3 261.7 L181.0 262.3 L182.1 263.0 L183.8 273.9 L184.4 276.1 L184.9 277.4 L185.5 278.1 L186.1 278.0 L186.6 277.4 L187.2 277.3 L188.0 263.5 L188.4 251.0 L188.9 238.5 L189.5 226.0 L190.2 213.5 L191.0 201.0 L191.7 199.5 L192.4 198.6 L193.2 199.2 L193.9 201.2 L194.6 201.0 L195.4 212.6 L196.2 224.2 L196.9 235.8 L197.4 247.3 L197.9 258.9 L198.1 270.5 L198.3 258.8 L198.7 247.0 L199.2 235.2 L199.7 223.5 L200.4 211.8 L201.1 200.0 L201.9 199.8 L202.7 197.7 L203.5 197.9 L204.3 197.7 L205.1 198.1 L205.9 200.0 L206.7 211.8 L207.4 223.5 L208.0 235.2 L208.5 247.0 L208.9 258.8 L209.1 270.5 L210.0 263.8 L211.7 257.0 L212.5 254.8 L213.3 254.0 L213.9 252.5 L214.4 253.5 L215.0 252.0 L215.6 252.6 L216.1 254.6 L216.7 255.3 L218.4 263.0 L219.1 264.0 L219.7 265.8 L220.3 266.6 L221.0 266.3 L221.8 264.0 L222.6 261.3 L224.3 255.3 L224.9 255.3 L225.6 256.0 L226.2 255.9 L226.9 257.0 L227.6 258.1 L228.2 258.5 L228.8 258.3 L229.4 259.6 L230.1 259.8 L230.7 261.0 L231.3 261.7 L231.9 262.1 L232.8 260.4 L233.5 262.0 L233.8 249.8 L234.2 237.6 L234.7 225.3 L235.3 213.1 L236.0 200.9 L236.8 188.7 L237.6 188.5 L238.4 186.5 L239.2 187.4 L240.0 187.6 L240.8 188.7 L241.7 200.2 L242.4 211.8 L243.1 223.3 L243.7 234.9 L244.2 246.4 L244.4 258.0 L244.6 247.7 L245.1 237.4 L245.6 227.2 L246.3 216.9 L247.0 206.6 L247.8 196.3 L248.5 194.8 L249.2 195.6 L249.9 193.9 L250.7 195.2 L251.4 194.2 L252.1 195.4 L252.8 196.3 L253.5 208.5 L254.2 220.8 L254.8 233.0 L255.3 245.2 L255.7 257.5 L255.9 269.7 L256.5 268.4 L257.0 266.0 L257.6 263.8 L259.3 254.5 L259.9 254.7 L260.4 256.4 L261.0 256.2 L261.6 255.9 L262.1 255.9 L262.7 257.0 L263.3 257.7 L263.8 259.2 L264.4 260.4 L265.2 261.7 L266.0 264.6 L266.6 262.6 L267.1 261.6 L267.7 260.4 L268.4 260.3 L269.0 260.0 L269.6 259.1 L270.3 259.6 L272.0 250.3 L272.6 249.9 L273.3 250.0 L273.9 250.9 L274.5 250.3 L276.2 257.9 L276.8 259.6 L277.3 259.8 L277.9 260.4 L278.5 260.2 L279.0 259.4 L279.6 258.7 L280.2 256.4 L280.7 254.5 L281.3 253.6 L282.1 251.5 L282.9 251.1 L283.5 252.0 L284.2 251.5 L284.9 252.9 L285.5 253.6 L287.2 262.9 L287.8 264.9 L288.3 264.3 L288.9 266.3 L289.7 265.3 L290.5 263.8 L291.1 260.9 L291.8 258.0 L292.5 256.7 L293.1 254.5 L293.7 255.3 L294.2 257.7 L294.8 257.9 L295.4 256.8 L295.9 257.4 L296.5 257.0 L297.3 260.0 L298.1 262.1 L298.7 264.8 L299.2 266.5 L299.8 268.0 L300.7 268.9 L301.6 255.3 L302.0 241.6 L302.6 227.8 L303.3 214.1 L304.1 200.4 L305.0 186.7 L305.7 185.3 L306.4 184.9 L307.1 186.4 L307.9 186.0 L308.6 185.0 L309.3 186.9 L310.0 186.7 L310.9 200.4 L311.8 214.1 L312.5 227.8 L313.1 241.5 L313.6 255.2 L313.9 268.9 L314.1 255.3 L314.5 241.7 L314.9 228.1 L315.5 214.5 L316.1 200.9 L316.8 187.3 L317.6 185.8 L318.4 185.7 L319.2 186.7 L320.0 186.3 L320.8 185.5 L321.6 187.3 L322.2 199.6 L322.7 211.9 L323.2 224.2 L323.5 236.4 L323.8 248.7 L324.0 261.0 L324.2 249.0 L324.8 250.0 L325.3 250.7 L325.9 250.8 L326.5 252.4 L327.0 252.2 L327.6 253.3 L328.2 254.5 L328.7 255.7 L329.3 255.8 L329.9 258.2 L330.4 259.1 L331.0 260.9 L332.1 267.6 L333.2 264.0 L333.8 263.8 L334.3 262.6 L334.9 263.8 L335.4 263.9 L336.0 264.3 L336.6 265.1 L337.1 265.2 L337.7 265.9 L339.4 255.0 L341.1 244.9 L341.7 244.7 L342.3 244.2 L343.0 244.3 L343.6 244.0 L344.2 244.9 L344.7 247.7 L345.3 249.1 L345.9 251.7 L346.4 253.1 L347.0 254.1 L347.6 255.6 L348.1 256.2 L348.7 257.5 L349.3 256.5 L349.8 254.8 L350.4 253.3 L351.2 250.2 L352.0 247.4 L352.9 243.2 L353.8 249.0 L354.6 253.3 L355.8 236.4 L357.1 244.9 L358.4 256.7 L359.6 267.6" fill="none" stroke="#1e1e1e" stroke-width="0.8" stroke-linejoin="round"/>
<rect x="395.0" y="218.2" width="64.9" height="60.6" fill="none" stroke="#c8c8c8" stroke-width="0.9"/>
<text x="394.6" y="287.5" font-size="5.4" text-anchor="middle" font-family="Liberation Sans, Arial, sans-serif" fill="#333">2</text>
<text x="413.8" y="287.5" font-size="5.4" text-anchor="middle" font-family="Liberation Sans, Arial, sans-serif" fill="#333">2.5</text>
<line x1="413.8" y1="278.8" x2="413.8" y2="277.4" stroke="#c8c8c8" stroke-width="0.6"/>
<line x1="413.8" y1="218.2" x2="413.8" y2="219.6" stroke="#c8c8c8" stroke-width="0.6"/>
<text x="433.0" y="287.5" font-size="5.4" text-anchor="middle" font-family="Liberation Sans, Arial, sans-serif" fill="#333">3.0</text>
<line x1="433.0" y1="278.8" x2="433.0" y2="277.4" stroke="#c8c8c8" stroke-width="0.6"/>
<line x1="433.0" y1="218.2" x2="433.0" y2="219.6" stroke="#c8c8c8" stroke-width="0.6"/>
<text x="452.2" y="287.5" font-size="5.4" text-anchor="middle" font-family="Liberation Sans, Arial, sans-serif" fill="#333">3.5</text>
<line x1="452.2" y1="278.8" x2="452.2" y2="277.4" stroke="#c8c8c8" stroke-width="0.6"/>
<line x1="452.2" y1="218.2" x2="452.2" y2="219.6" stroke="#c8c8c8" stroke-width="0.6"/>
<text x="393" y="275.4" font-size="5.4" text-anchor="end" font-family="Liberation Sans, Arial, sans-serif" fill="#333">2000</text>
<line x1="395.0" y1="273.2" x2="396.4" y2="273.2" stroke="#c8c8c8" stroke-width="0.6"/>
<line x1="459.9" y1="273.2" x2="458.5" y2="273.2" stroke="#c8c8c8" stroke-width="0.6"/>
<text x="393" y="251.7" font-size="5.4" text-anchor="end" font-family="Liberation Sans, Arial, sans-serif" fill="#333">3000</text>
<line x1="395.0" y1="249.5" x2="396.4" y2="249.5" stroke="#c8c8c8" stroke-width="0.6"/>
<line x1="459.9" y1="249.5" x2="458.5" y2="249.5" stroke="#c8c8c8" stroke-width="0.6"/>
<text x="393" y="228.0" font-size="5.4" text-anchor="end" font-family="Liberation Sans, Arial, sans-serif" fill="#333">4000</text>
<line x1="395.0" y1="225.8" x2="396.4" y2="225.8" stroke="#c8c8c8" stroke-width="0.6"/>
<line x1="459.9" y1="225.8" x2="458.5" y2="225.8" stroke="#c8c8c8" stroke-width="0.6"/>
<text x="427.2" y="295.2" font-size="6.2" text-anchor="middle" font-family="Liberation Sans, Arial, sans-serif" fill="#333">Mean spot height /nm</text>
<text transform="translate(377.8,248.5) rotate(-90)" font-size="6.1" text-anchor="middle" font-family="Liberation Sans, Arial, sans-serif" fill="#333">Data points per spot</text>
<text x="373.6" y="214.5" font-size="10" font-family="Liberation Sans, Arial, sans-serif" fill="#222">D</text>
<rect x="420.7" y="256.2" width="1.5" height="1.5" fill="#111"/>
<rect x="411.9" y="260.7" width="1.5" height="1.5" fill="#111"/>
<rect x="417.5" y="261.2" width="1.5" height="1.5" fill="#111"/>
<rect x="409.7" y="265.4" width="1.5" height="1.5" fill="#111"/>
<rect x="422.0" y="254.6" width="1.5" height="1.5" fill="#111"/>
<rect x="403.4" y="266.0" width="1.5" height="1.5" fill="#111"/>
<rect x="409.6" y="266.0" width="1.5" height="1.5" fill="#111"/>
<rect x="405.8" y="264.9" width="1.5" height="1.5" fill="#111"/>
<rect x="407.2" y="268.4" width="1.5" height="1.5" fill="#111"/>
<rect x="411.5" y="260.1" width="1.5" height="1.5" fill="#111"/>
<rect x="399.4" y="272.1" width="1.5" height="1.5" fill="#111"/>
<rect x="413.6" y="266.1" width="1.5" height="1.5" fill="#111"/>
<rect x="404.8" y="265.1" width="1.5" height="1.5" fill="#111"/>
<rect x="415.5" y="261.7" width="1.5" height="1.5" fill="#111"/>
<rect x="397.6" y="272.0" width="1.5" height="1.5" fill="#111"/>
<rect x="427.9" y="258.4" width="1.5" height="1.5" fill="#111"/>
<rect x="413.2" y="263.0" width="1.5" height="1.5" fill="#111"/>
<rect x="403.2" y="269.2" width="1.5" height="1.5" fill="#111"/>
<rect x="426.0" y="254.1" width="1.5" height="1.5" fill="#111"/>
<rect x="420.0" y="257.9" width="1.5" height="1.5" fill="#111"/>
<rect x="425.9" y="254.7" width="1.5" height="1.5" fill="#111"/>
<rect x="414.1" y="260.6" width="1.5" height="1.5" fill="#111"/>
<rect x="428.8" y="254.3" width="1.5" height="1.5" fill="#111"/>
<rect x="402.5" y="268.7" width="1.5" height="1.5" fill="#111"/>
<rect x="422.9" y="252.7" width="1.5" height="1.5" fill="#111"/>
<rect x="429.1" y="254.6" width="1.5" height="1.5" fill="#111"/>
<rect x="421.1" y="256.8" width="1.5" height="1.5" fill="#111"/>
<rect x="413.4" y="257.9" width="1.5" height="1.5" fill="#111"/>
<rect x="407.2" y="266.9" width="1.5" height="1.5" fill="#111"/>
<rect x="415.9" y="261.6" width="1.5" height="1.5" fill="#111"/>
<rect x="405.8" y="268.1" width="1.5" height="1.5" fill="#111"/>
<rect x="413.5" y="264.3" width="1.5" height="1.5" fill="#111"/>
<rect x="412.4" y="261.1" width="1.5" height="1.5" fill="#111"/>
<rect x="404.5" y="268.8" width="1.5" height="1.5" fill="#111"/>
<rect x="422.9" y="261.7" width="1.5" height="1.5" fill="#111"/>
<rect x="424.5" y="255.2" width="1.5" height="1.5" fill="#111"/>
<rect x="406.9" y="265.5" width="1.5" height="1.5" fill="#111"/>
<rect x="418.5" y="260.8" width="1.5" height="1.5" fill="#111"/>
<rect x="402.6" y="271.1" width="1.5" height="1.5" fill="#111"/>
<rect x="407.9" y="262.3" width="1.5" height="1.5" fill="#111"/>
<rect x="404.9" y="264.1" width="1.5" height="1.5" fill="#111"/>
<rect x="404.2" y="263.3" width="1.5" height="1.5" fill="#111"/>
<rect x="427.7" y="254.9" width="1.5" height="1.5" fill="#111"/>
<rect x="400.1" y="266.8" width="1.5" height="1.5" fill="#111"/>
<rect x="414.2" y="260.7" width="1.5" height="1.5" fill="#111"/>
<rect x="400.9" y="264.1" width="1.5" height="1.5" fill="#111"/>
<rect x="421.1" y="260.0" width="1.5" height="1.5" fill="#111"/>
<rect x="400.2" y="269.1" width="1.5" height="1.5" fill="#111"/>
<rect x="422.2" y="255.4" width="1.5" height="1.5" fill="#111"/>
<rect x="410.7" y="266.6" width="1.5" height="1.5" fill="#111"/>
<rect x="418.1" y="258.1" width="1.5" height="1.5" fill="#111"/>
<rect x="411.2" y="266.4" width="1.5" height="1.5" fill="#111"/>
<rect x="409.7" y="265.6" width="1.5" height="1.5" fill="#111"/>
<rect x="421.5" y="255.6" width="1.5" height="1.5" fill="#111"/>
<rect x="400.5" y="269.7" width="1.5" height="1.5" fill="#111"/>
<rect x="408.6" y="265.2" width="1.5" height="1.5" fill="#111"/>
<rect x="418.6" y="261.5" width="1.5" height="1.5" fill="#111"/>
<rect x="400.9" y="269.8" width="1.5" height="1.5" fill="#111"/>
<rect x="406.2" y="265.2" width="1.5" height="1.5" fill="#111"/>
<rect x="408.3" y="270.0" width="1.5" height="1.5" fill="#111"/>
<rect x="414.9" y="262.4" width="1.5" height="1.5" fill="#111"/>
<rect x="402.6" y="269.9" width="1.5" height="1.5" fill="#111"/>
<rect x="421.2" y="259.4" width="1.5" height="1.5" fill="#111"/>
<rect x="421.6" y="262.3" width="1.5" height="1.5" fill="#111"/>
<rect x="419.3" y="260.0" width="1.5" height="1.5" fill="#111"/>
<rect x="422.6" y="261.3" width="1.5" height="1.5" fill="#111"/>
<rect x="408.0" y="265.7" width="1.5" height="1.5" fill="#111"/>
<rect x="418.9" y="255.7" width="1.5" height="1.5" fill="#111"/>
<rect x="424.5" y="258.8" width="1.5" height="1.5" fill="#111"/>
<rect x="399.6" y="269.7" width="1.5" height="1.5" fill="#111"/>
<rect x="401.2" y="270.4" width="1.5" height="1.5" fill="#111"/>
<rect x="410.7" y="263.6" width="1.5" height="1.5" fill="#111"/>
<rect x="400.6" y="271.7" width="1.5" height="1.5" fill="#111"/>
<rect x="409.7" y="265.6" width="1.5" height="1.5" fill="#111"/>
<rect x="409.3" y="268.3" width="1.5" height="1.5" fill="#111"/>
<rect x="410.9" y="264.1" width="1.5" height="1.5" fill="#111"/>
<rect x="410.5" y="263.0" width="1.5" height="1.5" fill="#111"/>
<rect x="411.2" y="265.2" width="1.5" height="1.5" fill="#111"/>
<rect x="399.1" y="269.1" width="1.5" height="1.5" fill="#111"/>
<rect x="409.8" y="262.6" width="1.5" height="1.5" fill="#111"/>
<rect x="409.5" y="263.7" width="1.5" height="1.5" fill="#111"/>
<rect x="402.1" y="266.6" width="1.5" height="1.5" fill="#111"/>
<rect x="429.4" y="253.0" width="1.5" height="1.5" fill="#111"/>
<rect x="410.9" y="264.5" width="1.5" height="1.5" fill="#111"/>
<rect x="396.8" y="268.9" width="1.5" height="1.5" fill="#111"/>
<rect x="428.8" y="256.1" width="1.5" height="1.5" fill="#111"/>
<rect x="396.0" y="268.1" width="1.5" height="1.5" fill="#111"/>
<rect x="416.5" y="260.0" width="1.5" height="1.5" fill="#111"/>
<rect x="425.1" y="252.4" width="1.5" height="1.5" fill="#111"/>
<rect x="407.7" y="266.4" width="1.5" height="1.5" fill="#111"/>
<rect x="398.9" y="271.0" width="1.5" height="1.5" fill="#111"/>
<rect x="431.4" y="254.8" width="1.5" height="1.5" fill="#111"/>
<rect x="418.7" y="265.0" width="1.5" height="1.5" fill="#111"/>
<rect x="408.3" y="263.7" width="1.5" height="1.5" fill="#111"/>
<rect x="412.1" y="260.9" width="1.5" height="1.5" fill="#111"/>
<rect x="406.4" y="263.6" width="1.5" height="1.5" fill="#111"/>
<rect x="407.0" y="265.0" width="1.5" height="1.5" fill="#111"/>
<rect x="422.9" y="259.1" width="1.5" height="1.5" fill="#111"/>
<rect x="426.0" y="256.2" width="1.5" height="1.5" fill="#111"/>
<rect x="429.4" y="249.9" width="1.5" height="1.5" fill="#111"/>
<rect x="408.5" y="266.2" width="1.5" height="1.5" fill="#111"/>
<rect x="406.8" y="269.3" width="1.5" height="1.5" fill="#111"/>
<rect x="409.9" y="264.9" width="1.5" height="1.5" fill="#111"/>
<rect x="412.4" y="263.9" width="1.5" height="1.5" fill="#111"/>
<rect x="400.9" y="265.2" width="1.5" height="1.5" fill="#111"/>
<rect x="415.4" y="258.8" width="1.5" height="1.5" fill="#111"/>
<rect x="399.5" y="267.3" width="1.5" height="1.5" fill="#111"/>
<rect x="400.2" y="269.8" width="1.5" height="1.5" fill="#111"/>
<rect x="419.0" y="261.2" width="1.5" height="1.5" fill="#111"/>
<rect x="401.9" y="267.5" width="1.5" height="1.5" fill="#111"/>
<rect x="425.7" y="257.3" width="1.5" height="1.5" fill="#111"/>
<rect x="427.8" y="252.9" width="1.5" height="1.5" fill="#111"/>
<rect x="417.9" y="257.7" width="1.5" height="1.5" fill="#111"/>
<rect x="412.6" y="261.2" width="1.5" height="1.5" fill="#111"/>
<rect x="421.8" y="256.3" width="1.5" height="1.5" fill="#111"/>
<rect x="427.0" y="253.4" width="1.5" height="1.5" fill="#111"/>
<rect x="411.1" y="260.2" width="1.5" height="1.5" fill="#111"/>
<rect x="422.0" y="260.0" width="1.5" height="1.5" fill="#111"/>
<rect x="407.7" y="267.5" width="1.5" height="1.5" fill="#111"/>
<rect x="417.9" y="260.4" width="1.5" height="1.5" fill="#111"/>
<rect x="419.5" y="259.6" width="1.5" height="1.5" fill="#111"/>
<rect x="414.7" y="262.5" width="1.5" height="1.5" fill="#111"/>
<rect x="422.5" y="257.7" width="1.5" height="1.5" fill="#111"/>
<rect x="405.5" y="267.8" width="1.5" height="1.5" fill="#111"/>
<rect x="417.1" y="260.7" width="1.5" height="1.5" fill="#111"/>
<rect x="431.9" y="242.2" width="1.5" height="1.5" fill="#111"/>
<rect x="426.6" y="248.1" width="1.5" height="1.5" fill="#111"/>
<rect x="414.9" y="251.9" width="1.5" height="1.5" fill="#111"/>
<rect x="435.1" y="251.2" width="1.5" height="1.5" fill="#111"/>
<rect x="438.4" y="250.7" width="1.5" height="1.5" fill="#111"/>
<rect x="443.6" y="248.7" width="1.5" height="1.5" fill="#111"/>
<rect x="450.6" y="244.4" width="1.5" height="1.5" fill="#111"/>
<rect x="453.9" y="248.9" width="1.5" height="1.5" fill="#111"/>
<rect x="444.9" y="252.2" width="1.5" height="1.5" fill="#111"/>
<rect x="448.1" y="252.2" width="1.5" height="1.5" fill="#111"/>
<rect x="443.6" y="255.4" width="1.5" height="1.5" fill="#111"/>
<rect x="401.9" y="262.6" width="1.5" height="1.5" fill="#111"/>
<rect x="400.6" y="274.2" width="1.5" height="1.5" fill="#111"/>
<rect x="413.1" y="254.8" width="1.5" height="1.5" fill="#111"/>
<rect x="415.6" y="220.8" width="1.5" height="1.5" fill="#111"/>
<rect x="397.2" y="272.8" width="1.5" height="1.5" fill="#111"/>
<rect x="399.2" y="275.2" width="1.5" height="1.5" fill="#111"/>
<rect x="478.2" y="217.9" width="65.4" height="61.0" fill="none" stroke="#c8c8c8" stroke-width="0.9"/>
<text x="481.8" y="287.5" font-size="5.4" text-anchor="middle" font-family="Liberation Sans, Arial, sans-serif" fill="#333">70</text>
<line x1="481.8" y1="278.9" x2="481.8" y2="277.5" stroke="#c8c8c8" stroke-width="0.6"/>
<line x1="481.8" y1="217.9" x2="481.8" y2="219.3" stroke="#c8c8c8" stroke-width="0.6"/>
<text x="500.6" y="287.5" font-size="5.4" text-anchor="middle" font-family="Liberation Sans, Arial, sans-serif" fill="#333">80</text>
<line x1="500.6" y1="278.9" x2="500.6" y2="277.5" stroke="#c8c8c8" stroke-width="0.6"/>
<line x1="500.6" y1="217.9" x2="500.6" y2="219.3" stroke="#c8c8c8" stroke-width="0.6"/>
<text x="519.3" y="287.5" font-size="5.4" text-anchor="middle" font-family="Liberation Sans, Arial, sans-serif" fill="#333">90</text>
<line x1="519.3" y1="278.9" x2="519.3" y2="277.5" stroke="#c8c8c8" stroke-width="0.6"/>
<line x1="519.3" y1="217.9" x2="519.3" y2="219.3" stroke="#c8c8c8" stroke-width="0.6"/>
<text x="538.0" y="287.5" font-size="5.4" text-anchor="middle" font-family="Liberation Sans, Arial, sans-serif" fill="#333">100</text>
<line x1="538.0" y1="278.9" x2="538.0" y2="277.5" stroke="#c8c8c8" stroke-width="0.6"/>
<line x1="538.0" y1="217.9" x2="538.0" y2="219.3" stroke="#c8c8c8" stroke-width="0.6"/>
<text x="476.3" y="282.0" font-size="5.4" text-anchor="end" font-family="Liberation Sans, Arial, sans-serif" fill="#333">5</text>
<line x1="478.2" y1="279.8" x2="479.6" y2="279.8" stroke="#c8c8c8" stroke-width="0.6"/>
<line x1="543.6" y1="279.8" x2="542.2" y2="279.8" stroke="#c8c8c8" stroke-width="0.6"/>
<text x="476.3" y="264.2" font-size="5.4" text-anchor="end" font-family="Liberation Sans, Arial, sans-serif" fill="#333">10</text>
<line x1="478.2" y1="262.0" x2="479.6" y2="262.0" stroke="#c8c8c8" stroke-width="0.6"/>
<line x1="543.6" y1="262.0" x2="542.2" y2="262.0" stroke="#c8c8c8" stroke-width="0.6"/>
<text x="476.3" y="246.3" font-size="5.4" text-anchor="end" font-family="Liberation Sans, Arial, sans-serif" fill="#333">15</text>
<line x1="478.2" y1="244.1" x2="479.6" y2="244.1" stroke="#c8c8c8" stroke-width="0.6"/>
<line x1="543.6" y1="244.1" x2="542.2" y2="244.1" stroke="#c8c8c8" stroke-width="0.6"/>
<text x="476.3" y="228.5" font-size="5.4" text-anchor="end" font-family="Liberation Sans, Arial, sans-serif" fill="#333">20</text>
<line x1="478.2" y1="226.3" x2="479.6" y2="226.3" stroke="#c8c8c8" stroke-width="0.6"/>
<line x1="543.6" y1="226.3" x2="542.2" y2="226.3" stroke="#c8c8c8" stroke-width="0.6"/>
<text x="511.2" y="295.2" font-size="6.2" text-anchor="middle" font-family="Liberation Sans, Arial, sans-serif" fill="#333">Spot diameter /μm</text>
<text transform="translate(467.6,248.3) rotate(-90)" font-size="6.2" text-anchor="middle" font-family="Liberation Sans, Arial, sans-serif" fill="#333">Spot volume /μm<tspan font-size="5" dy="-2.5">3</tspan></text>
<rect x="492.0" y="260.5" width="1.5" height="1.5" fill="#111"/>
<rect x="498.5" y="251.7" width="1.5" height="1.5" fill="#111"/>
<rect x="491.4" y="259.6" width="1.5" height="1.5" fill="#111"/>
<rect x="497.0" y="257.6" width="1.5" height="1.5" fill="#111"/>
<rect x="489.6" y="257.3" width="1.5" height="1.5" fill="#111"/>
<rect x="491.6" y="259.2" width="1.5" height="1.5" fill="#111"/>
<rect x="509.4" y="240.9" width="1.5" height="1.5" fill="#111"/>
<rect x="486.8" y="262.9" width="1.5" height="1.5" fill="#111"/>
<rect x="494.3" y="257.8" width="1.5" height="1.5" fill="#111"/>
<rect x="497.5" y="257.1" width="1.5" height="1.5" fill="#111"/>
<rect x="487.8" y="264.0" width="1.5" height="1.5" fill="#111"/>
<rect x="485.4" y="264.8" width="1.5" height="1.5" fill="#111"/>
<rect x="486.9" y="265.3" width="1.5" height="1.5" fill="#111"/>
<rect x="487.7" y="264.6" width="1.5" height="1.5" fill="#111"/>
<rect x="497.2" y="255.1" width="1.5" height="1.5" fill="#111"/>
<rect x="497.1" y="253.9" width="1.5" height="1.5" fill="#111"/>
<rect x="492.4" y="261.5" width="1.5" height="1.5" fill="#111"/>
<rect x="497.8" y="254.6" width="1.5" height="1.5" fill="#111"/>
<rect x="505.5" y="248.8" width="1.5" height="1.5" fill="#111"/>
<rect x="497.1" y="254.2" width="1.5" height="1.5" fill="#111"/>
<rect x="500.8" y="252.3" width="1.5" height="1.5" fill="#111"/>
<rect x="498.6" y="252.3" width="1.5" height="1.5" fill="#111"/>
<rect x="483.3" y="265.9" width="1.5" height="1.5" fill="#111"/>
<rect x="507.8" y="245.5" width="1.5" height="1.5" fill="#111"/>
<rect x="484.4" y="265.2" width="1.5" height="1.5" fill="#111"/>
<rect x="505.4" y="245.0" width="1.5" height="1.5" fill="#111"/>
<rect x="488.2" y="263.2" width="1.5" height="1.5" fill="#111"/>
<rect x="497.7" y="253.0" width="1.5" height="1.5" fill="#111"/>
<rect x="498.0" y="254.0" width="1.5" height="1.5" fill="#111"/>
<rect x="505.0" y="253.6" width="1.5" height="1.5" fill="#111"/>
<rect x="498.7" y="248.2" width="1.5" height="1.5" fill="#111"/>
<rect x="504.0" y="253.1" width="1.5" height="1.5" fill="#111"/>
<rect x="505.6" y="251.7" width="1.5" height="1.5" fill="#111"/>
<rect x="499.1" y="250.1" width="1.5" height="1.5" fill="#111"/>
<rect x="492.7" y="258.5" width="1.5" height="1.5" fill="#111"/>
<rect x="507.9" y="242.1" width="1.5" height="1.5" fill="#111"/>
<rect x="509.6" y="244.9" width="1.5" height="1.5" fill="#111"/>
<rect x="487.3" y="263.2" width="1.5" height="1.5" fill="#111"/>
<rect x="510.3" y="248.2" width="1.5" height="1.5" fill="#111"/>
<rect x="484.8" y="269.8" width="1.5" height="1.5" fill="#111"/>
<rect x="495.3" y="259.0" width="1.5" height="1.5" fill="#111"/>
<rect x="482.2" y="259.2" width="1.5" height="1.5" fill="#111"/>
<rect x="498.0" y="249.8" width="1.5" height="1.5" fill="#111"/>
<rect x="500.6" y="251.3" width="1.5" height="1.5" fill="#111"/>
<rect x="487.3" y="261.8" width="1.5" height="1.5" fill="#111"/>
<rect x="493.9" y="253.3" width="1.5" height="1.5" fill="#111"/>
<rect x="489.1" y="260.2" width="1.5" height="1.5" fill="#111"/>
<rect x="486.6" y="257.7" width="1.5" height="1.5" fill="#111"/>
<rect x="492.2" y="256.2" width="1.5" height="1.5" fill="#111"/>
<rect x="507.9" y="249.0" width="1.5" height="1.5" fill="#111"/>
<rect x="487.4" y="258.0" width="1.5" height="1.5" fill="#111"/>
<rect x="493.1" y="256.4" width="1.5" height="1.5" fill="#111"/>
<rect x="499.8" y="250.9" width="1.5" height="1.5" fill="#111"/>
<rect x="491.9" y="266.5" width="1.5" height="1.5" fill="#111"/>
<rect x="498.8" y="255.1" width="1.5" height="1.5" fill="#111"/>
<rect x="492.4" y="257.2" width="1.5" height="1.5" fill="#111"/>
<rect x="498.3" y="257.2" width="1.5" height="1.5" fill="#111"/>
<rect x="480.4" y="264.1" width="1.5" height="1.5" fill="#111"/>
<rect x="499.4" y="254.0" width="1.5" height="1.5" fill="#111"/>
<rect x="487.0" y="265.1" width="1.5" height="1.5" fill="#111"/>
<rect x="503.6" y="247.7" width="1.5" height="1.5" fill="#111"/>
<rect x="489.8" y="261.2" width="1.5" height="1.5" fill="#111"/>
<rect x="505.6" y="246.2" width="1.5" height="1.5" fill="#111"/>
<rect x="501.9" y="256.2" width="1.5" height="1.5" fill="#111"/>
<rect x="498.8" y="255.4" width="1.5" height="1.5" fill="#111"/>
<rect x="492.4" y="255.5" width="1.5" height="1.5" fill="#111"/>
<rect x="496.0" y="254.5" width="1.5" height="1.5" fill="#111"/>
<rect x="501.2" y="250.5" width="1.5" height="1.5" fill="#111"/>
<rect x="495.0" y="253.6" width="1.5" height="1.5" fill="#111"/>
<rect x="510.2" y="240.7" width="1.5" height="1.5" fill="#111"/>
<rect x="502.8" y="248.9" width="1.5" height="1.5" fill="#111"/>
<rect x="494.9" y="257.2" width="1.5" height="1.5" fill="#111"/>
<rect x="494.7" y="258.2" width="1.5" height="1.5" fill="#111"/>
<rect x="494.5" y="258.4" width="1.5" height="1.5" fill="#111"/>
<rect x="492.2" y="262.9" width="1.5" height="1.5" fill="#111"/>
<rect x="480.4" y="266.8" width="1.5" height="1.5" fill="#111"/>
<rect x="492.4" y="255.1" width="1.5" height="1.5" fill="#111"/>
<rect x="495.2" y="254.3" width="1.5" height="1.5" fill="#111"/>
<rect x="497.6" y="255.1" width="1.5" height="1.5" fill="#111"/>
<rect x="511.0" y="248.7" width="1.5" height="1.5" fill="#111"/>
<rect x="509.3" y="250.1" width="1.5" height="1.5" fill="#111"/>
<rect x="495.0" y="260.6" width="1.5" height="1.5" fill="#111"/>
<rect x="490.4" y="257.7" width="1.5" height="1.5" fill="#111"/>
<rect x="496.7" y="258.4" width="1.5" height="1.5" fill="#111"/>
<rect x="487.9" y="263.6" width="1.5" height="1.5" fill="#111"/>
<rect x="500.7" y="252.8" width="1.5" height="1.5" fill="#111"/>
<rect x="513.2" y="238.6" width="1.5" height="1.5" fill="#111"/>
<rect x="505.2" y="253.1" width="1.5" height="1.5" fill="#111"/>
<rect x="503.1" y="252.5" width="1.5" height="1.5" fill="#111"/>
<rect x="494.2" y="258.9" width="1.5" height="1.5" fill="#111"/>
<rect x="492.5" y="258.2" width="1.5" height="1.5" fill="#111"/>
<rect x="506.9" y="246.8" width="1.5" height="1.5" fill="#111"/>
<rect x="508.1" y="245.6" width="1.5" height="1.5" fill="#111"/>
<rect x="506.8" y="244.3" width="1.5" height="1.5" fill="#111"/>
<rect x="486.6" y="254.0" width="1.5" height="1.5" fill="#111"/>
<rect x="487.5" y="261.8" width="1.5" height="1.5" fill="#111"/>
<rect x="490.2" y="263.4" width="1.5" height="1.5" fill="#111"/>
<rect x="494.2" y="254.9" width="1.5" height="1.5" fill="#111"/>
<rect x="499.1" y="247.7" width="1.5" height="1.5" fill="#111"/>
<rect x="506.2" y="244.1" width="1.5" height="1.5" fill="#111"/>
<rect x="490.0" y="264.6" width="1.5" height="1.5" fill="#111"/>
<rect x="491.9" y="263.0" width="1.5" height="1.5" fill="#111"/>
<rect x="492.9" y="259.3" width="1.5" height="1.5" fill="#111"/>
<rect x="499.1" y="251.9" width="1.5" height="1.5" fill="#111"/>
<rect x="505.4" y="248.8" width="1.5" height="1.5" fill="#111"/>
<rect x="488.1" y="261.6" width="1.5" height="1.5" fill="#111"/>
<rect x="504.3" y="249.8" width="1.5" height="1.5" fill="#111"/>
<rect x="488.5" y="262.6" width="1.5" height="1.5" fill="#111"/>
<rect x="498.6" y="251.8" width="1.5" height="1.5" fill="#111"/>
<rect x="494.9" y="257.4" width="1.5" height="1.5" fill="#111"/>
<rect x="497.7" y="254.0" width="1.5" height="1.5" fill="#111"/>
<rect x="500.6" y="251.2" width="1.5" height="1.5" fill="#111"/>
<rect x="498.4" y="256.5" width="1.5" height="1.5" fill="#111"/>
<rect x="504.4" y="250.4" width="1.5" height="1.5" fill="#111"/>
<rect x="492.1" y="258.6" width="1.5" height="1.5" fill="#111"/>
<rect x="493.8" y="259.2" width="1.5" height="1.5" fill="#111"/>
<rect x="506.8" y="240.2" width="1.5" height="1.5" fill="#111"/>
<rect x="508.2" y="246.0" width="1.5" height="1.5" fill="#111"/>
<rect x="501.3" y="250.1" width="1.5" height="1.5" fill="#111"/>
<rect x="484.4" y="260.3" width="1.5" height="1.5" fill="#111"/>
<rect x="507.4" y="235.7" width="1.5" height="1.5" fill="#111"/>
<rect x="507.2" y="251.8" width="1.5" height="1.5" fill="#111"/>
<rect x="500.3" y="248.8" width="1.5" height="1.5" fill="#111"/>
<rect x="510.4" y="246.2" width="1.5" height="1.5" fill="#111"/>
<rect x="497.6" y="249.2" width="1.5" height="1.5" fill="#111"/>
<rect x="518.5" y="224.8" width="1.5" height="1.5" fill="#111"/>
<rect x="538.0" y="226.9" width="1.5" height="1.5" fill="#111"/>
<rect x="513.0" y="227.8" width="1.5" height="1.5" fill="#111"/>
<rect x="523.5" y="232.9" width="1.5" height="1.5" fill="#111"/>
<rect x="511.5" y="232.3" width="1.5" height="1.5" fill="#111"/>
<rect x="508.4" y="233.3" width="1.5" height="1.5" fill="#111"/>
<rect x="515.5" y="235.3" width="1.5" height="1.5" fill="#111"/>
<rect x="503.4" y="238.3" width="1.5" height="1.5" fill="#111"/>
<rect x="520.5" y="245.4" width="1.5" height="1.5" fill="#111"/>
<rect x="517.5" y="246.4" width="1.5" height="1.5" fill="#111"/>
<rect x="520.5" y="251.4" width="1.5" height="1.5" fill="#111"/>
<rect x="517.5" y="259.9" width="1.5" height="1.5" fill="#111"/>
<rect x="506.4" y="257.4" width="1.5" height="1.5" fill="#111"/>
<rect x="501.4" y="262.6" width="1.5" height="1.5" fill="#111"/>
<defs><clipPath id="insclip"><rect x="467.2" y="149.4" width="58.6" height="45.6"/></clipPath>
<radialGradient id="skirt" cx="0.5" cy="0.5" r="0.5" fx="0.62" fy="0.36">
<stop offset="0" stop-color="#c08a20"/><stop offset="0.6" stop-color="#a8b028"/><stop offset="0.78" stop-color="#40c040"/><stop offset="0.92" stop-color="#22b0a0"/><stop offset="1" stop-color="#2090d0" stop-opacity="0.0"/>
</radialGradient>
<radialGradient id="dtop" cx="0.5" cy="0.45" r="0.55">
<stop offset="0" stop-color="#d25a1c"/><stop offset="0.6" stop-color="#d0641e"/><stop offset="0.85" stop-color="#c88a22"/><stop offset="1" stop-color="#9ab82a" stop-opacity="0.0"/>
</radialGradient>
<radialGradient id="small" cx="0.5" cy="0.5" r="0.5">
<stop offset="0" stop-color="#b8b028"/><stop offset="0.6" stop-color="#50c040"/><stop offset="1" stop-color="#30a0a0" stop-opacity="0"/>
</radialGradient>
<filter id="blur1"><feGaussianBlur stdDeviation="0.6"/></filter>
</defs>
<g clip-path="url(#insclip)">
<rect x="467.2" y="149.4" width="58.6" height="45.6" fill="#1f46d6"/>
<g stroke="#2a8ee0" stroke-opacity="0.55" filter="url(#blur1)">
<line x1="446.7" y1="200.0" x2="486.7" y2="139.4" stroke-width="0.9"/>
<line x1="452.5" y1="200.0" x2="492.5" y2="139.4" stroke-width="1.0"/>
<line x1="457.3" y1="200.0" x2="497.3" y2="139.4" stroke-width="1.2"/>
<line x1="464.5" y1="200.0" x2="504.5" y2="139.4" stroke-width="1.6"/>
<line x1="469.7" y1="200.0" x2="509.7" y2="139.4" stroke-width="1.0"/>
<line x1="474.8" y1="200.0" x2="514.8" y2="139.4" stroke-width="1.1"/>
<line x1="479.5" y1="200.0" x2="519.5" y2="139.4" stroke-width="0.9"/>
<line x1="485.1" y1="200.0" x2="525.1" y2="139.4" stroke-width="1.7"/>
<line x1="491.9" y1="200.0" x2="531.9" y2="139.4" stroke-width="1.6"/>
<line x1="497.3" y1="200.0" x2="537.3" y2="139.4" stroke-width="1.0"/>
<line x1="501.8" y1="200.0" x2="541.8" y2="139.4" stroke-width="1.4"/>
<line x1="508.2" y1="200.0" x2="548.2" y2="139.4" stroke-width="1.7"/>
<line x1="514.0" y1="200.0" x2="554.0" y2="139.4" stroke-width="0.9"/>
<line x1="518.9" y1="200.0" x2="558.9" y2="139.4" stroke-width="1.5"/>
<line x1="524.2" y1="200.0" x2="564.2" y2="139.4" stroke-width="1.0"/>
<line x1="529.6" y1="200.0" x2="569.6" y2="139.4" stroke-width="0.9"/>
</g>
<g filter="url(#blur1)">
<ellipse cx="495.5" cy="170.8" rx="23" ry="17.2" transform="rotate(-15 495.5 170.8)" fill="url(#skirt)"/>
<ellipse cx="498.5" cy="166" rx="19.5" ry="13" transform="rotate(-15 498.5 166)" fill="url(#dtop)"/>
<circle cx="489.3" cy="166.4" r="1.0" fill="#a83c16" opacity="0.5"/>
<circle cx="494.6" cy="159.9" r="1.5" fill="#b04418" opacity="0.5"/>
<circle cx="508.9" cy="168.8" r="1.4" fill="#e07a24" opacity="0.5"/>
<circle cx="497.7" cy="161.2" r="1.6" fill="#b04418" opacity="0.5"/>
<circle cx="493.3" cy="166.8" r="1.0" fill="#a83c16" opacity="0.5"/>
<circle cx="482.3" cy="164.6" r="0.9" fill="#e07a24" opacity="0.5"/>
<circle cx="492.9" cy="156.2" r="1.5" fill="#a83c16" opacity="0.5"/>
<circle cx="500.4" cy="169.3" r="1.5" fill="#b04418" opacity="0.5"/>
<circle cx="500.8" cy="154.7" r="1.1" fill="#b04418" opacity="0.5"/>
<circle cx="500.9" cy="161.1" r="1.5" fill="#a83c16" opacity="0.5"/>
<circle cx="507.4" cy="167.1" r="1.0" fill="#b04418" opacity="0.5"/>
<circle cx="499.7" cy="174.1" r="1.6" fill="#a83c16" opacity="0.5"/>
<circle cx="513.0" cy="165.2" r="1.5" fill="#a83c16" opacity="0.5"/>
<circle cx="498.8" cy="165.6" r="1.0" fill="#a83c16" opacity="0.5"/>
<circle cx="508.3" cy="161.4" r="1.2" fill="#e07a24" opacity="0.5"/>
<circle cx="507.4" cy="161.9" r="1.0" fill="#b04418" opacity="0.5"/>
<circle cx="499.8" cy="156.2" r="1.0" fill="#a83c16" opacity="0.5"/>
<circle cx="485.7" cy="158.2" r="1.1" fill="#a83c16" opacity="0.5"/>
<circle cx="492.2" cy="155.9" r="1.1" fill="#e07a24" opacity="0.5"/>
<circle cx="515.5" cy="164.6" r="1.5" fill="#a83c16" opacity="0.5"/>
<circle cx="485.4" cy="171.0" r="1.3" fill="#a83c16" opacity="0.5"/>
<circle cx="507.5" cy="166.6" r="1.3" fill="#e07a24" opacity="0.5"/>
<circle cx="486.0" cy="161.5" r="1.0" fill="#b04418" opacity="0.5"/>
<circle cx="505.3" cy="160.9" r="1.2" fill="#a83c16" opacity="0.5"/>
<circle cx="510.6" cy="164.3" r="1.2" fill="#a83c16" opacity="0.5"/>
<circle cx="498.3" cy="164.9" r="1.0" fill="#a83c16" opacity="0.5"/>
<circle cx="490.4" cy="166.9" r="1.1" fill="#a83c16" opacity="0.5"/>
<circle cx="496.0" cy="172.2" r="0.9" fill="#a83c16" opacity="0.5"/>
<circle cx="501.4" cy="155.5" r="1.1" fill="#b04418" opacity="0.5"/>
<circle cx="500.6" cy="157.3" r="1.2" fill="#a83c16" opacity="0.5"/>
<circle cx="500.5" cy="175.7" r="1.3" fill="#b04418" opacity="0.5"/>
<circle cx="510.1" cy="162.9" r="1.4" fill="#a83c16" opacity="0.5"/>
<circle cx="505.8" cy="173.7" r="0.9" fill="#b04418" opacity="0.5"/>
<circle cx="512.4" cy="161.4" r="1.6" fill="#b04418" opacity="0.5"/>
<circle cx="511.0" cy="164.3" r="0.9" fill="#a83c16" opacity="0.5"/>
<circle cx="484.5" cy="167.9" r="1.3" fill="#b04418" opacity="0.5"/>
<circle cx="507.4" cy="163.8" r="1.2" fill="#a83c16" opacity="0.5"/>
<circle cx="495.6" cy="175.6" r="1.3" fill="#e07a24" opacity="0.5"/>
<circle cx="497.4" cy="163.0" r="1.0" fill="#b04418" opacity="0.5"/>
<circle cx="484.8" cy="161.4" r="1.5" fill="#e07a24" opacity="0.5"/>
<ellipse cx="522.5" cy="193" rx="6" ry="5" fill="url(#small)"/>
</g>
</g>
<rect x="467.2" y="149.4" width="58.6" height="45.6" fill="none" stroke="#111" stroke-width="1.3"/>
<rect x="468" y="183.3" width="14.2" height="11" fill="#fff"/>
<text x="475.2" y="191.8" font-size="9.6" text-anchor="middle" font-family="Liberation Sans, Arial, sans-serif" fill="#222">B</text>
</svg></body></html>
